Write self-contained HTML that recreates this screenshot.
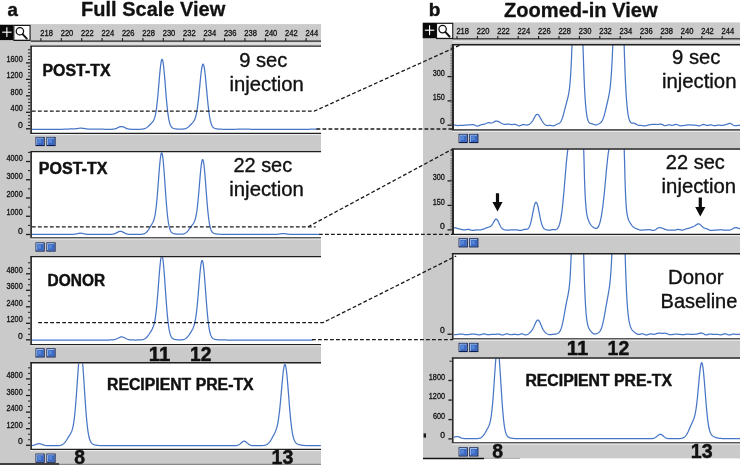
<!DOCTYPE html>
<html lang="en"><head><meta charset="utf-8"><title>Full Scale View / Zoomed-in View electropherograms</title>
<style>html,body{margin:0;padding:0;background:#fff;overflow:hidden}svg{display:block;font-family:"Liberation Sans", Arial, Helvetica, sans-serif}text{white-space:pre}</style>
</head><body>
<svg width="740" height="465" viewBox="0 0 740 465">
<rect x="0" y="0" width="740" height="465" fill="#ffffff"/>
<text x="7.5" y="15.6" font-size="18.6" font-weight="bold" text-anchor="start" fill="#111" stroke="#111" stroke-width="0.45" stroke-linejoin="round">a</text>
<text x="81.1" y="16.1" font-size="19.5" font-weight="bold" text-anchor="start" fill="#111" textLength="144.2" lengthAdjust="spacingAndGlyphs" stroke="#111" stroke-width="0.3" stroke-linejoin="round">Full Scale View</text>
<text x="428.7" y="15.9" font-size="19" font-weight="bold" text-anchor="start" fill="#111" stroke="#111" stroke-width="0.45" stroke-linejoin="round">b</text>
<text x="504" y="16.5" font-size="19.7" font-weight="bold" text-anchor="start" fill="#111" textLength="153.6" lengthAdjust="spacingAndGlyphs" stroke="#111" stroke-width="0.3" stroke-linejoin="round">Zoomed-in View</text>
<rect x="0" y="24.1" width="321" height="440.9" fill="#cacaca"/>
<rect x="0" y="24.9" width="13.3" height="15.2" fill="#0a0a0a"/>
<line x1="2.15" y1="32.2" x2="11.55" y2="32.2" stroke="#fff" stroke-width="1.15"/>
<line x1="6.85" y1="27.3" x2="6.85" y2="37.1" stroke="#fff" stroke-width="1.15"/>
<rect x="13.3" y="24.9" width="17.3" height="16.1" fill="#151515"/>
<rect x="14.4" y="26" width="15.1" height="13.7" fill="#fff"/>
<circle cx="19.9" cy="31.2" r="3.7" fill="#fff" stroke="#111" stroke-width="1.25"/>
<line x1="22.8" y1="34.3" x2="26.8" y2="38.6" stroke="#111" stroke-width="1.9" stroke-linecap="round"/>
<line x1="30.8" y1="41" x2="321" y2="41" stroke="#1c1c1c" stroke-width="1.25"/>
<rect x="30.8" y="41.9" width="290.2" height="3.5" fill="#d2d2d2"/>
<line x1="30.8" y1="43.6" x2="321" y2="43.6" stroke="#e6e6e6" stroke-width="0.9"/>
<line x1="40.9" y1="38.1" x2="40.9" y2="41" stroke="#1c1c1c" stroke-width="1.1"/>
<text x="40.3" y="36.3" font-size="8.6" font-weight="normal" text-anchor="start" fill="#111" textLength="12.6" lengthAdjust="spacingAndGlyphs" stroke="#111" stroke-width="0.3">218</text>
<line x1="61.3" y1="38.1" x2="61.3" y2="41" stroke="#1c1c1c" stroke-width="1.1"/>
<text x="60.7" y="36.3" font-size="8.6" font-weight="normal" text-anchor="start" fill="#111" textLength="12.6" lengthAdjust="spacingAndGlyphs" stroke="#111" stroke-width="0.3">220</text>
<line x1="81.7" y1="38.1" x2="81.7" y2="41" stroke="#1c1c1c" stroke-width="1.1"/>
<text x="81.1" y="36.3" font-size="8.6" font-weight="normal" text-anchor="start" fill="#111" textLength="12.6" lengthAdjust="spacingAndGlyphs" stroke="#111" stroke-width="0.3">222</text>
<line x1="102.1" y1="38.1" x2="102.1" y2="41" stroke="#1c1c1c" stroke-width="1.1"/>
<text x="101.5" y="36.3" font-size="8.6" font-weight="normal" text-anchor="start" fill="#111" textLength="12.6" lengthAdjust="spacingAndGlyphs" stroke="#111" stroke-width="0.3">224</text>
<line x1="122.5" y1="38.1" x2="122.5" y2="41" stroke="#1c1c1c" stroke-width="1.1"/>
<text x="121.9" y="36.3" font-size="8.6" font-weight="normal" text-anchor="start" fill="#111" textLength="12.6" lengthAdjust="spacingAndGlyphs" stroke="#111" stroke-width="0.3">226</text>
<line x1="142.9" y1="38.1" x2="142.9" y2="41" stroke="#1c1c1c" stroke-width="1.1"/>
<text x="142.3" y="36.3" font-size="8.6" font-weight="normal" text-anchor="start" fill="#111" textLength="12.6" lengthAdjust="spacingAndGlyphs" stroke="#111" stroke-width="0.3">228</text>
<line x1="163.3" y1="38.1" x2="163.3" y2="41" stroke="#1c1c1c" stroke-width="1.1"/>
<text x="162.7" y="36.3" font-size="8.6" font-weight="normal" text-anchor="start" fill="#111" textLength="12.6" lengthAdjust="spacingAndGlyphs" stroke="#111" stroke-width="0.3">230</text>
<line x1="183.7" y1="38.1" x2="183.7" y2="41" stroke="#1c1c1c" stroke-width="1.1"/>
<text x="183.1" y="36.3" font-size="8.6" font-weight="normal" text-anchor="start" fill="#111" textLength="12.6" lengthAdjust="spacingAndGlyphs" stroke="#111" stroke-width="0.3">232</text>
<line x1="204.1" y1="38.1" x2="204.1" y2="41" stroke="#1c1c1c" stroke-width="1.1"/>
<text x="203.5" y="36.3" font-size="8.6" font-weight="normal" text-anchor="start" fill="#111" textLength="12.6" lengthAdjust="spacingAndGlyphs" stroke="#111" stroke-width="0.3">234</text>
<line x1="224.5" y1="38.1" x2="224.5" y2="41" stroke="#1c1c1c" stroke-width="1.1"/>
<text x="223.9" y="36.3" font-size="8.6" font-weight="normal" text-anchor="start" fill="#111" textLength="12.6" lengthAdjust="spacingAndGlyphs" stroke="#111" stroke-width="0.3">236</text>
<line x1="244.9" y1="38.1" x2="244.9" y2="41" stroke="#1c1c1c" stroke-width="1.1"/>
<text x="244.3" y="36.3" font-size="8.6" font-weight="normal" text-anchor="start" fill="#111" textLength="12.6" lengthAdjust="spacingAndGlyphs" stroke="#111" stroke-width="0.3">238</text>
<line x1="265.3" y1="38.1" x2="265.3" y2="41" stroke="#1c1c1c" stroke-width="1.1"/>
<text x="264.7" y="36.3" font-size="8.6" font-weight="normal" text-anchor="start" fill="#111" textLength="12.6" lengthAdjust="spacingAndGlyphs" stroke="#111" stroke-width="0.3">240</text>
<line x1="285.7" y1="38.1" x2="285.7" y2="41" stroke="#1c1c1c" stroke-width="1.1"/>
<text x="285.1" y="36.3" font-size="8.6" font-weight="normal" text-anchor="start" fill="#111" textLength="12.6" lengthAdjust="spacingAndGlyphs" stroke="#111" stroke-width="0.3">242</text>
<line x1="306.1" y1="38.1" x2="306.1" y2="41" stroke="#1c1c1c" stroke-width="1.1"/>
<text x="305.5" y="36.3" font-size="8.6" font-weight="normal" text-anchor="start" fill="#111" textLength="12.6" lengthAdjust="spacingAndGlyphs" stroke="#111" stroke-width="0.3">244</text>
<rect x="30.3" y="45.5" width="290.7" height="88.2" fill="#ffffff"/>
<rect x="30.3" y="151" width="290.7" height="87.1" fill="#ffffff"/>
<rect x="30.3" y="256" width="290.7" height="88.9" fill="#ffffff"/>
<rect x="30.3" y="362.1" width="290.7" height="87.6" fill="#ffffff"/>
<clipPath id="c1"><rect x="30.9" y="46.6" width="288.1" height="86.7"/></clipPath>
<path d="M31.9 129.3 L32.4 129.3 L32.9 129.3 L33.4 129.3 L33.9 129.3 L34.4 129.3 L34.9 129.3 L35.4 129.3 L35.9 129.3 L36.4 129.3 L36.9 129.3 L37.4 129.3 L37.9 129.3 L38.4 129.3 L38.9 129.3 L39.4 129.3 L39.9 129.3 L40.4 129.3 L40.9 129.3 L41.4 129.3 L41.9 129.3 L42.4 129.3 L42.9 129.3 L43.4 129.3 L43.9 129.3 L44.4 129.3 L44.9 129.3 L45.4 129.3 L45.9 129.3 L46.4 129.3 L46.9 129.3 L47.4 129.3 L47.9 129.3 L48.4 129.3 L48.9 129.3 L49.4 129.3 L49.9 129.3 L50.4 129.3 L50.9 129.3 L51.4 129.3 L51.9 129.3 L52.4 129.3 L52.9 129.3 L53.4 129.3 L53.9 129.3 L54.4 129.3 L54.9 129.3 L55.4 129.3 L55.9 129.3 L56.4 129.3 L56.9 129.3 L57.4 129.3 L57.9 129.3 L58.4 129.3 L58.9 129.3 L59.4 129.29 L59.9 129.29 L60.4 129.29 L60.9 129.28 L61.4 129.28 L61.9 129.27 L62.4 129.26 L62.9 129.25 L63.4 129.23 L63.9 129.22 L64.4 129.2 L64.9 129.18 L65.4 129.16 L65.9 129.14 L66.4 129.12 L66.9 129.09 L67.4 129.07 L67.9 129.05 L68.4 129.03 L68.9 129.01 L69.4 128.99 L69.9 128.98 L70.4 128.97 L70.9 128.96 L71.4 128.96 L71.9 128.95 L72.4 128.94 L72.9 128.93 L73.4 128.91 L73.9 128.89 L74.4 128.86 L74.9 128.82 L75.4 128.77 L75.9 128.71 L76.4 128.65 L76.9 128.58 L77.4 128.51 L77.9 128.43 L78.4 128.36 L78.9 128.3 L79.4 128.25 L79.9 128.21 L80.4 128.18 L80.9 128.18 L81.4 128.19 L81.9 128.22 L82.4 128.26 L82.9 128.32 L83.4 128.39 L83.9 128.47 L84.4 128.55 L84.9 128.64 L85.4 128.72 L85.9 128.8 L86.4 128.87 L86.9 128.93 L87.4 128.99 L87.9 129.03 L88.4 129.07 L88.9 129.09 L89.4 129.11 L89.9 129.12 L90.4 129.13 L90.9 129.13 L91.4 129.13 L91.9 129.13 L92.4 129.12 L92.9 129.11 L93.4 129.11 L93.9 129.1 L94.4 129.1 L94.9 129.1 L95.4 129.1 L95.9 129.1 L96.4 129.1 L96.9 129.11 L97.4 129.11 L97.9 129.12 L98.4 129.13 L98.9 129.14 L99.4 129.15 L99.9 129.17 L100.4 129.18 L100.9 129.19 L101.4 129.2 L101.9 129.21 L102.4 129.22 L102.9 129.23 L103.4 129.24 L103.9 129.25 L104.4 129.26 L104.9 129.27 L105.4 129.27 L105.9 129.28 L106.4 129.28 L106.9 129.29 L107.4 129.29 L107.9 129.29 L108.4 129.29 L108.9 129.29 L109.4 129.29 L109.9 129.29 L110.4 129.28 L110.9 129.27 L111.4 129.26 L111.9 129.24 L112.4 129.22 L112.9 129.18 L113.4 129.13 L113.9 129.06 L114.4 128.97 L114.9 128.85 L115.4 128.71 L115.9 128.55 L116.4 128.36 L116.9 128.14 L117.4 127.91 L117.9 127.66 L118.4 127.42 L118.9 127.18 L119.4 126.96 L119.9 126.78 L120.4 126.64 L120.9 126.55 L121.4 126.52 L121.9 126.55 L122.4 126.64 L122.9 126.78 L123.4 126.96 L123.9 127.18 L124.4 127.42 L124.9 127.66 L125.4 127.91 L125.9 128.14 L126.4 128.36 L126.9 128.55 L127.4 128.71 L127.9 128.85 L128.4 128.97 L128.9 129.06 L129.4 129.13 L129.9 129.18 L130.4 129.22 L130.9 129.24 L131.4 129.26 L131.9 129.28 L132.4 129.29 L132.9 129.29 L133.4 129.29 L133.9 129.3 L134.4 129.3 L134.9 129.3 L135.4 129.3 L135.9 129.3 L136.4 129.3 L136.9 129.3 L137.4 129.29 L137.9 129.29 L138.4 129.29 L138.9 129.28 L139.4 129.28 L139.9 129.26 L140.4 129.25 L140.9 129.23 L141.4 129.2 L141.9 129.16 L142.4 129.11 L142.9 129.04 L143.4 128.95 L143.9 128.83 L144.4 128.69 L144.9 128.51 L145.4 128.3 L145.9 128.04 L146.4 127.75 L146.9 127.41 L147.4 127.03 L147.9 126.62 L148.4 126.17 L148.9 125.7 L149.4 125.21 L149.9 124.71 L150.4 124.21 L150.9 123.7 L151.4 123.2 L151.9 122.68 L152.4 122.13 L152.9 121.5 L153.4 120.74 L153.9 119.79 L154.4 118.56 L154.9 116.96 L155.4 114.89 L155.9 112.26 L156.4 108.99 L156.9 105.04 L157.4 100.43 L157.9 95.22 L158.4 89.55 L158.9 83.63 L159.4 77.73 L159.9 72.15 L160.4 67.22 L160.9 63.27 L161.4 60.56 L161.9 59.28 L162.4 59.55 L162.9 61.36 L163.4 64.58 L163.9 69.01 L164.4 74.38 L164.9 80.37 L165.4 86.64 L165.9 92.89 L166.4 98.87 L166.9 104.37 L167.4 109.25 L167.9 113.46 L168.4 116.98 L168.9 119.84 L169.4 122.11 L169.9 123.86 L170.4 125.2 L170.9 126.19 L171.4 126.93 L171.9 127.46 L172.4 127.86 L172.9 128.15 L173.4 128.36 L173.9 128.53 L174.4 128.66 L174.9 128.76 L175.4 128.85 L175.9 128.92 L176.4 128.98 L176.9 129.03 L177.4 129.07 L177.9 129.11 L178.4 129.14 L178.9 129.17 L179.4 129.18 L179.9 129.2 L180.4 129.21 L180.9 129.21 L181.4 129.2 L181.9 129.19 L182.4 129.16 L182.9 129.12 L183.4 129.07 L183.9 128.99 L184.4 128.9 L184.9 128.78 L185.4 128.62 L185.9 128.43 L186.4 128.21 L186.9 127.94 L187.4 127.63 L187.9 127.28 L188.4 126.89 L188.9 126.46 L189.4 126 L189.9 125.51 L190.4 125.01 L190.9 124.5 L191.4 123.98 L191.9 123.45 L192.4 122.9 L192.9 122.32 L193.4 121.68 L193.9 120.95 L194.4 120.06 L194.9 118.96 L195.4 117.57 L195.9 115.81 L196.4 113.62 L196.9 110.92 L197.4 107.68 L197.9 103.89 L198.4 99.58 L198.9 94.83 L199.4 89.78 L199.9 84.6 L200.4 79.52 L200.9 74.79 L201.4 70.66 L201.9 67.38 L202.4 65.15 L202.9 64.11 L203.4 64.34 L203.9 65.84 L204.4 68.52 L204.9 72.23 L205.4 76.76 L205.9 81.88 L206.4 87.32 L206.9 92.84 L207.4 98.22 L207.9 103.29 L208.4 107.9 L208.9 111.99 L209.4 115.5 L209.9 118.46 L210.4 120.88 L210.9 122.81 L211.4 124.34 L211.9 125.51 L212.4 126.41 L212.9 127.08 L213.4 127.58 L213.9 127.95 L214.4 128.23 L214.9 128.44 L215.4 128.6 L215.9 128.73 L216.4 128.83 L216.9 128.91 L217.4 128.97 L217.9 129.03 L218.4 129.08 L218.9 129.11 L219.4 129.15 L219.9 129.17 L220.4 129.2 L220.9 129.22 L221.4 129.23 L221.9 129.25 L222.4 129.26 L222.9 129.27 L223.4 129.27 L223.9 129.28 L224.4 129.28 L224.9 129.29 L225.4 129.29 L225.9 129.29 L226.4 129.29 L226.9 129.3 L227.4 129.3 L227.9 129.3 L228.4 129.3 L228.9 129.3 L229.4 129.3 L229.9 129.3 L230.4 129.3 L230.9 129.3 L231.4 129.3 L231.9 129.3 L232.4 129.29 L232.9 129.29 L233.4 129.29 L233.9 129.28 L234.4 129.28 L234.9 129.27 L235.4 129.27 L235.9 129.26 L236.4 129.25 L236.9 129.23 L237.4 129.22 L237.9 129.2 L238.4 129.18 L238.9 129.17 L239.4 129.15 L239.9 129.13 L240.4 129.11 L240.9 129.09 L241.4 129.08 L241.9 129.06 L242.4 129.06 L242.9 129.05 L243.4 129.05 L243.9 129.05 L244.4 129.06 L244.9 129.06 L245.4 129.08 L245.9 129.09 L246.4 129.11 L246.9 129.13 L247.4 129.15 L247.9 129.17 L248.4 129.18 L248.9 129.2 L249.4 129.22 L249.9 129.23 L250.4 129.25 L250.9 129.26 L251.4 129.27 L251.9 129.27 L252.4 129.28 L252.9 129.28 L253.4 129.29 L253.9 129.29 L254.4 129.29 L254.9 129.3 L255.4 129.3 L255.9 129.3 L256.4 129.3 L256.9 129.3 L257.4 129.3 L257.9 129.3 L258.4 129.3 L258.9 129.3 L259.4 129.3 L259.9 129.3 L260.4 129.3 L260.9 129.3 L261.4 129.3 L261.9 129.3 L262.4 129.3 L262.9 129.3 L263.4 129.3 L263.9 129.3 L264.4 129.3 L264.9 129.3 L265.4 129.3 L265.9 129.3 L266.4 129.3 L266.9 129.3 L267.4 129.3 L267.9 129.3 L268.4 129.3 L268.9 129.3 L269.4 129.3 L269.9 129.3 L270.4 129.3 L270.9 129.3 L271.4 129.3 L271.9 129.3 L272.4 129.3 L272.9 129.3 L273.4 129.3 L273.9 129.3 L274.4 129.3 L274.9 129.3 L275.4 129.3 L275.9 129.3 L276.4 129.3 L276.9 129.3 L277.4 129.3 L277.9 129.3 L278.4 129.3 L278.9 129.3 L279.4 129.3 L279.9 129.3 L280.4 129.3 L280.9 129.3 L281.4 129.3 L281.9 129.3 L282.4 129.3 L282.9 129.3 L283.4 129.3 L283.9 129.3 L284.4 129.3 L284.9 129.3 L285.4 129.3 L285.9 129.3 L286.4 129.3 L286.9 129.3 L287.4 129.3 L287.9 129.3 L288.4 129.3 L288.9 129.3 L289.4 129.3 L289.9 129.3 L290.4 129.3 L290.9 129.3 L291.4 129.3 L291.9 129.3 L292.4 129.3 L292.9 129.3 L293.4 129.3 L293.9 129.3 L294.4 129.3 L294.9 129.3 L295.4 129.3 L295.9 129.3 L296.4 129.3 L296.9 129.3 L297.4 129.3 L297.9 129.3 L298.4 129.3 L298.9 129.3 L299.4 129.3 L299.9 129.3 L300.4 129.3 L300.9 129.3 L301.4 129.3 L301.9 129.3 L302.4 129.3 L302.9 129.3 L303.4 129.3 L303.9 129.3 L304.4 129.3 L304.9 129.3 L305.4 129.3 L305.9 129.3 L306.4 129.3 L306.9 129.3 L307.4 129.29 L307.9 129.29 L308.4 129.28 L308.9 129.27 L309.4 129.26 L309.9 129.24 L310.4 129.22 L310.9 129.19 L311.4 129.15 L311.9 129.12 L312.4 129.08 L312.9 129.05 L313.4 129.02 L313.9 129 L314.4 129 L314.9 129 L315.4 129.02 L315.9 129.05 L316.4 129.08 L316.9 129.12 L317.4 129.15 L317.9 129.19" fill="none" stroke="#4876c6" stroke-width="1.25" stroke-linejoin="round" clip-path="url(#c1)"/>
<clipPath id="c2"><rect x="30.9" y="152.1" width="289.1" height="86.3"/></clipPath>
<path d="M31.9 234.4 L32.4 234.4 L32.9 234.4 L33.4 234.4 L33.9 234.4 L34.4 234.4 L34.9 234.4 L35.4 234.4 L35.9 234.4 L36.4 234.4 L36.9 234.4 L37.4 234.4 L37.9 234.4 L38.4 234.4 L38.9 234.4 L39.4 234.4 L39.9 234.4 L40.4 234.4 L40.9 234.4 L41.4 234.4 L41.9 234.4 L42.4 234.4 L42.9 234.4 L43.4 234.4 L43.9 234.4 L44.4 234.4 L44.9 234.4 L45.4 234.4 L45.9 234.4 L46.4 234.4 L46.9 234.4 L47.4 234.4 L47.9 234.4 L48.4 234.4 L48.9 234.4 L49.4 234.4 L49.9 234.4 L50.4 234.4 L50.9 234.4 L51.4 234.4 L51.9 234.4 L52.4 234.4 L52.9 234.4 L53.4 234.4 L53.9 234.4 L54.4 234.4 L54.9 234.4 L55.4 234.4 L55.9 234.4 L56.4 234.4 L56.9 234.4 L57.4 234.4 L57.9 234.4 L58.4 234.4 L58.9 234.4 L59.4 234.4 L59.9 234.4 L60.4 234.4 L60.9 234.4 L61.4 234.4 L61.9 234.4 L62.4 234.4 L62.9 234.4 L63.4 234.4 L63.9 234.4 L64.4 234.4 L64.9 234.4 L65.4 234.4 L65.9 234.4 L66.4 234.4 L66.9 234.4 L67.4 234.4 L67.9 234.4 L68.4 234.4 L68.9 234.4 L69.4 234.4 L69.9 234.39 L70.4 234.39 L70.9 234.39 L71.4 234.38 L71.9 234.36 L72.4 234.35 L72.9 234.32 L73.4 234.29 L73.9 234.25 L74.4 234.19 L74.9 234.13 L75.4 234.05 L75.9 233.95 L76.4 233.85 L76.9 233.74 L77.4 233.63 L77.9 233.52 L78.4 233.41 L78.9 233.32 L79.4 233.26 L79.9 233.21 L80.4 233.2 L80.9 233.21 L81.4 233.26 L81.9 233.32 L82.4 233.41 L82.9 233.52 L83.4 233.63 L83.9 233.74 L84.4 233.85 L84.9 233.95 L85.4 234.05 L85.9 234.13 L86.4 234.19 L86.9 234.25 L87.4 234.29 L87.9 234.32 L88.4 234.35 L88.9 234.36 L89.4 234.38 L89.9 234.39 L90.4 234.39 L90.9 234.39 L91.4 234.4 L91.9 234.4 L92.4 234.4 L92.9 234.4 L93.4 234.4 L93.9 234.4 L94.4 234.4 L94.9 234.4 L95.4 234.4 L95.9 234.4 L96.4 234.4 L96.9 234.4 L97.4 234.4 L97.9 234.4 L98.4 234.4 L98.9 234.4 L99.4 234.4 L99.9 234.4 L100.4 234.4 L100.9 234.4 L101.4 234.4 L101.9 234.4 L102.4 234.4 L102.9 234.4 L103.4 234.4 L103.9 234.4 L104.4 234.4 L104.9 234.4 L105.4 234.4 L105.9 234.4 L106.4 234.4 L106.9 234.4 L107.4 234.4 L107.9 234.4 L108.4 234.4 L108.9 234.39 L109.4 234.39 L109.9 234.38 L110.4 234.37 L110.9 234.35 L111.4 234.32 L111.9 234.29 L112.4 234.24 L112.9 234.17 L113.4 234.07 L113.9 233.95 L114.4 233.81 L114.9 233.63 L115.4 233.42 L115.9 233.18 L116.4 232.91 L116.9 232.63 L117.4 232.35 L117.9 232.07 L118.4 231.82 L118.9 231.6 L119.4 231.44 L119.9 231.34 L120.4 231.3 L120.9 231.34 L121.4 231.44 L121.9 231.6 L122.4 231.82 L122.9 232.07 L123.4 232.35 L123.9 232.63 L124.4 232.91 L124.9 233.18 L125.4 233.42 L125.9 233.63 L126.4 233.81 L126.9 233.95 L127.4 234.07 L127.9 234.17 L128.4 234.24 L128.9 234.29 L129.4 234.32 L129.9 234.35 L130.4 234.37 L130.9 234.38 L131.4 234.39 L131.9 234.39 L132.4 234.4 L132.9 234.4 L133.4 234.4 L133.9 234.4 L134.4 234.4 L134.9 234.4 L135.4 234.4 L135.9 234.4 L136.4 234.39 L136.9 234.39 L137.4 234.39 L137.9 234.39 L138.4 234.38 L138.9 234.38 L139.4 234.37 L139.9 234.35 L140.4 234.34 L140.9 234.31 L141.4 234.27 L141.9 234.23 L142.4 234.16 L142.9 234.07 L143.4 233.95 L143.9 233.8 L144.4 233.6 L144.9 233.35 L145.4 233.05 L145.9 232.68 L146.4 232.24 L146.9 231.73 L147.4 231.15 L147.9 230.5 L148.4 229.8 L148.9 229.04 L149.4 228.26 L149.9 227.45 L150.4 226.64 L150.9 225.82 L151.4 225.01 L151.9 224.17 L152.4 223.29 L152.9 222.31 L153.4 221.16 L153.9 219.75 L154.4 217.96 L154.9 215.69 L155.4 212.83 L155.9 209.27 L156.4 204.97 L156.9 199.93 L157.4 194.19 L157.9 187.92 L158.4 181.31 L158.9 174.66 L159.4 168.32 L159.9 162.64 L160.4 158 L160.9 154.7 L161.4 152.99 L161.9 153 L162.4 154.75 L162.9 158.15 L163.4 162.98 L163.9 168.95 L164.4 175.71 L164.9 182.89 L165.4 190.15 L165.9 197.17 L166.4 203.7 L166.9 209.57 L167.4 214.69 L167.9 219.02 L168.4 222.57 L168.9 225.41 L169.4 227.63 L169.9 229.33 L170.4 230.6 L170.9 231.53 L171.4 232.21 L171.9 232.71 L172.4 233.06 L172.9 233.32 L173.4 233.51 L173.9 233.66 L174.4 233.77 L174.9 233.87 L175.4 233.94 L175.9 234.01 L176.4 234.06 L176.9 234.11 L177.4 234.15 L177.9 234.18 L178.4 234.21 L178.9 234.23 L179.4 234.24 L179.9 234.25 L180.4 234.24 L180.9 234.23 L181.4 234.2 L181.9 234.16 L182.4 234.1 L182.9 234.02 L183.4 233.91 L183.9 233.77 L184.4 233.59 L184.9 233.37 L185.4 233.1 L185.9 232.77 L186.4 232.39 L186.9 231.96 L187.4 231.46 L187.9 230.9 L188.4 230.3 L188.9 229.65 L189.4 228.97 L189.9 228.27 L190.4 227.57 L190.9 226.86 L191.4 226.16 L191.9 225.48 L192.4 224.8 L192.9 224.1 L193.4 223.36 L193.9 222.51 L194.4 221.5 L194.9 220.23 L195.4 218.61 L195.9 216.53 L196.4 213.9 L196.9 210.65 L197.4 206.71 L197.9 202.1 L198.4 196.87 L198.9 191.16 L199.4 185.16 L199.9 179.13 L200.4 173.4 L200.9 168.28 L201.4 164.1 L201.9 161.15 L202.4 159.65 L202.9 159.72 L203.4 161.37 L203.9 164.51 L204.4 168.96 L204.9 174.43 L205.4 180.62 L205.9 187.2 L206.4 193.83 L206.9 200.24 L207.4 206.21 L207.9 211.58 L208.4 216.25 L208.9 220.2 L209.4 223.45 L209.9 226.06 L210.4 228.09 L210.9 229.65 L211.4 230.82 L211.9 231.68 L212.4 232.31 L212.9 232.76 L213.4 233.1 L213.9 233.34 L214.4 233.53 L214.9 233.67 L215.4 233.78 L215.9 233.87 L216.4 233.95 L216.9 234.01 L217.4 234.07 L217.9 234.11 L218.4 234.16 L218.9 234.19 L219.4 234.23 L219.9 234.25 L220.4 234.28 L220.9 234.3 L221.4 234.32 L221.9 234.33 L222.4 234.34 L222.9 234.35 L223.4 234.36 L223.9 234.37 L224.4 234.38 L224.9 234.38 L225.4 234.38 L225.9 234.39 L226.4 234.39 L226.9 234.39 L227.4 234.39 L227.9 234.4 L228.4 234.4 L228.9 234.4 L229.4 234.4 L229.9 234.4 L230.4 234.4 L230.9 234.4 L231.4 234.4 L231.9 234.4 L232.4 234.4 L232.9 234.4 L233.4 234.4 L233.9 234.4 L234.4 234.4 L234.9 234.4 L235.4 234.4 L235.9 234.4 L236.4 234.4 L236.9 234.4 L237.4 234.4 L237.9 234.4 L238.4 234.4 L238.9 234.4 L239.4 234.4 L239.9 234.4 L240.4 234.4 L240.9 234.4 L241.4 234.4 L241.9 234.4 L242.4 234.4 L242.9 234.4 L243.4 234.4 L243.9 234.4 L244.4 234.4 L244.9 234.4 L245.4 234.4 L245.9 234.4 L246.4 234.4 L246.9 234.4 L247.4 234.4 L247.9 234.4 L248.4 234.4 L248.9 234.4 L249.4 234.4 L249.9 234.4 L250.4 234.4 L250.9 234.4 L251.4 234.4 L251.9 234.4 L252.4 234.4 L252.9 234.4 L253.4 234.4 L253.9 234.4 L254.4 234.4 L254.9 234.4 L255.4 234.4 L255.9 234.4 L256.4 234.4 L256.9 234.4 L257.4 234.4 L257.9 234.4 L258.4 234.4 L258.9 234.4 L259.4 234.4 L259.9 234.4 L260.4 234.4 L260.9 234.4 L261.4 234.4 L261.9 234.4 L262.4 234.4 L262.9 234.4 L263.4 234.4 L263.9 234.4 L264.4 234.4 L264.9 234.4 L265.4 234.4 L265.9 234.4 L266.4 234.4 L266.9 234.4 L267.4 234.4 L267.9 234.4 L268.4 234.4 L268.9 234.4 L269.4 234.4 L269.9 234.4 L270.4 234.4 L270.9 234.4 L271.4 234.4 L271.9 234.4 L272.4 234.4 L272.9 234.39 L273.4 234.39 L273.9 234.39 L274.4 234.38 L274.9 234.37 L275.4 234.36 L275.9 234.34 L276.4 234.32 L276.9 234.29 L277.4 234.25 L277.9 234.2 L278.4 234.15 L278.9 234.08 L279.4 234.02 L279.9 233.94 L280.4 233.87 L280.9 233.8 L281.4 233.73 L281.9 233.68 L282.4 233.64 L282.9 233.61 L283.4 233.6 L283.9 233.61 L284.4 233.64 L284.9 233.68 L285.4 233.73 L285.9 233.8 L286.4 233.87 L286.9 233.94 L287.4 234.02 L287.9 234.08 L288.4 234.15 L288.9 234.2 L289.4 234.25 L289.9 234.29 L290.4 234.32 L290.9 234.34 L291.4 234.36 L291.9 234.37 L292.4 234.38 L292.9 234.39 L293.4 234.39 L293.9 234.39 L294.4 234.4 L294.9 234.4 L295.4 234.4 L295.9 234.4 L296.4 234.4 L296.9 234.4 L297.4 234.4 L297.9 234.4 L298.4 234.4 L298.9 234.4 L299.4 234.4 L299.9 234.4 L300.4 234.4 L300.9 234.4 L301.4 234.4 L301.9 234.4 L302.4 234.4 L302.9 234.4 L303.4 234.4 L303.9 234.4 L304.4 234.4 L304.9 234.4 L305.4 234.4 L305.9 234.4 L306.4 234.4 L306.9 234.4 L307.4 234.4 L307.9 234.4 L308.4 234.4 L308.9 234.4 L309.4 234.4 L309.9 234.4 L310.4 234.4 L310.9 234.4 L311.4 234.4 L311.9 234.4 L312.4 234.4 L312.9 234.4 L313.4 234.4 L313.9 234.4 L314.4 234.4 L314.9 234.4 L315.4 234.4 L315.9 234.4 L316.4 234.4 L316.9 234.4 L317.4 234.4 L317.9 234.4 L318.4 234.4 L318.9 234.4" fill="none" stroke="#4876c6" stroke-width="1.25" stroke-linejoin="round" clip-path="url(#c2)"/>
<clipPath id="c3"><rect x="30.9" y="257.3" width="283.1" height="86.7"/></clipPath>
<path d="M31.9 340 L32.4 340 L32.9 340 L33.4 340 L33.9 340 L34.4 340 L34.9 340 L35.4 340 L35.9 340 L36.4 340 L36.9 340 L37.4 340 L37.9 340 L38.4 340 L38.9 340 L39.4 340 L39.9 340 L40.4 340 L40.9 340 L41.4 340 L41.9 340 L42.4 340 L42.9 340 L43.4 340 L43.9 340 L44.4 340 L44.9 340 L45.4 340 L45.9 340 L46.4 340 L46.9 340 L47.4 340 L47.9 340 L48.4 340 L48.9 340 L49.4 340 L49.9 340 L50.4 340 L50.9 340 L51.4 340 L51.9 340 L52.4 340 L52.9 340 L53.4 340 L53.9 340 L54.4 340 L54.9 340 L55.4 340 L55.9 340 L56.4 340 L56.9 340 L57.4 340 L57.9 340 L58.4 340 L58.9 340 L59.4 340 L59.9 340 L60.4 340 L60.9 340 L61.4 340 L61.9 340 L62.4 340 L62.9 340 L63.4 340 L63.9 340 L64.4 340 L64.9 340 L65.4 340 L65.9 340 L66.4 340 L66.9 340 L67.4 340 L67.9 340 L68.4 340 L68.9 340 L69.4 340 L69.9 340 L70.4 340 L70.9 340 L71.4 340 L71.9 340 L72.4 340 L72.9 340 L73.4 340 L73.9 340 L74.4 340 L74.9 340 L75.4 340 L75.9 340 L76.4 340 L76.9 340 L77.4 340 L77.9 340 L78.4 340 L78.9 340 L79.4 340 L79.9 340 L80.4 340 L80.9 340 L81.4 340 L81.9 340 L82.4 340 L82.9 340 L83.4 340 L83.9 340 L84.4 340 L84.9 340 L85.4 340 L85.9 340 L86.4 340 L86.9 340 L87.4 340 L87.9 340 L88.4 340 L88.9 340 L89.4 340 L89.9 340 L90.4 340 L90.9 340 L91.4 340 L91.9 340 L92.4 340 L92.9 340 L93.4 340 L93.9 340 L94.4 340 L94.9 340 L95.4 340 L95.9 340 L96.4 340 L96.9 340 L97.4 340 L97.9 340 L98.4 340 L98.9 340 L99.4 340 L99.9 340 L100.4 340 L100.9 340 L101.4 340 L101.9 340 L102.4 340 L102.9 340 L103.4 340 L103.9 340 L104.4 340 L104.9 340 L105.4 340 L105.9 340 L106.4 340 L106.9 340 L107.4 340 L107.9 340 L108.4 340 L108.9 340 L109.4 339.99 L109.9 339.99 L110.4 339.98 L110.9 339.97 L111.4 339.96 L111.9 339.93 L112.4 339.9 L112.9 339.86 L113.4 339.8 L113.9 339.72 L114.4 339.63 L114.9 339.5 L115.4 339.35 L115.9 339.18 L116.4 338.97 L116.9 338.74 L117.4 338.49 L117.9 338.23 L118.4 337.96 L118.9 337.7 L119.4 337.46 L119.9 337.24 L120.4 337.08 L120.9 336.96 L121.4 336.91 L121.9 336.91 L122.4 336.98 L122.9 337.11 L123.4 337.28 L123.9 337.5 L124.4 337.75 L124.9 338.01 L125.4 338.28 L125.9 338.54 L126.4 338.79 L126.9 339.02 L127.4 339.21 L127.9 339.39 L128.4 339.53 L128.9 339.65 L129.4 339.74 L129.9 339.81 L130.4 339.87 L130.9 339.91 L131.4 339.94 L131.9 339.96 L132.4 339.97 L132.9 339.98 L133.4 339.99 L133.9 339.99 L134.4 340 L134.9 340 L135.4 340 L135.9 340 L136.4 340 L136.9 339.99 L137.4 339.99 L137.9 339.99 L138.4 339.98 L138.9 339.97 L139.4 339.95 L139.9 339.93 L140.4 339.91 L140.9 339.87 L141.4 339.82 L141.9 339.75 L142.4 339.66 L142.9 339.55 L143.4 339.4 L143.9 339.22 L144.4 338.99 L144.9 338.72 L145.4 338.39 L145.9 338.01 L146.4 337.56 L146.9 337.05 L147.4 336.49 L147.9 335.87 L148.4 335.2 L148.9 334.5 L149.4 333.76 L149.9 332.99 L150.4 332.21 L150.9 331.4 L151.4 330.57 L151.9 329.68 L152.4 328.71 L152.9 327.61 L153.4 326.31 L153.9 324.72 L154.4 322.75 L154.9 320.31 L155.4 317.29 L155.9 313.62 L156.4 309.25 L156.9 304.18 L157.4 298.46 L157.9 292.23 L158.4 285.67 L158.9 279.04 L159.4 272.66 L159.9 266.84 L160.4 261.94 L160.9 258.26 L161.4 256.04 L161.9 255.46 L162.4 256.55 L162.9 259.29 L163.4 263.51 L163.9 268.96 L164.4 275.36 L164.9 282.35 L165.4 289.6 L165.9 296.8 L166.4 303.67 L166.9 310.02 L167.4 315.69 L167.9 320.61 L168.4 324.77 L168.9 328.2 L169.4 330.96 L169.9 333.13 L170.4 334.8 L170.9 336.07 L171.4 337.02 L171.9 337.72 L172.4 338.24 L172.9 338.62 L173.4 338.9 L173.9 339.11 L174.4 339.28 L174.9 339.4 L175.4 339.51 L175.9 339.59 L176.4 339.66 L176.9 339.71 L177.4 339.76 L177.9 339.8 L178.4 339.82 L178.9 339.85 L179.4 339.86 L179.9 339.87 L180.4 339.86 L180.9 339.85 L181.4 339.82 L181.9 339.78 L182.4 339.72 L182.9 339.64 L183.4 339.53 L183.9 339.38 L184.4 339.2 L184.9 338.98 L185.4 338.7 L185.9 338.37 L186.4 337.99 L186.9 337.54 L187.4 337.03 L187.9 336.46 L188.4 335.84 L188.9 335.17 L189.4 334.45 L189.9 333.7 L190.4 332.92 L190.9 332.12 L191.4 331.29 L191.9 330.43 L192.4 329.51 L192.9 328.49 L193.4 327.32 L193.9 325.95 L194.4 324.28 L194.9 322.23 L195.4 319.7 L195.9 316.61 L196.4 312.91 L196.9 308.55 L197.4 303.57 L197.9 298.02 L198.4 292.07 L198.9 285.9 L199.4 279.79 L199.9 274.02 L200.4 268.92 L200.9 264.79 L201.4 261.91 L201.9 260.47 L202.4 260.59 L202.9 262.27 L203.4 265.44 L203.9 269.92 L204.4 275.44 L204.9 281.72 L205.4 288.43 L205.9 295.25 L206.4 301.92 L206.9 308.2 L207.4 313.92 L207.9 318.97 L208.4 323.31 L208.9 326.95 L209.4 329.91 L209.9 332.28 L210.4 334.13 L210.9 335.54 L211.4 336.61 L211.9 337.41 L212.4 338 L212.9 338.44 L213.4 338.77 L213.9 339.01 L214.4 339.19 L214.9 339.34 L215.4 339.45 L215.9 339.54 L216.4 339.62 L216.9 339.68 L217.4 339.74 L217.9 339.78 L218.4 339.82 L218.9 339.85 L219.4 339.88 L219.9 339.9 L220.4 339.92 L220.9 339.94 L221.4 339.95 L221.9 339.96 L222.4 339.97 L222.9 339.97 L223.4 339.98 L223.9 339.98 L224.4 339.99 L224.9 339.99 L225.4 339.99 L225.9 339.99 L226.4 340 L226.9 340 L227.4 340 L227.9 340 L228.4 340 L228.9 340 L229.4 340 L229.9 340 L230.4 340 L230.9 340 L231.4 340 L231.9 340 L232.4 340 L232.9 340 L233.4 340 L233.9 340 L234.4 340 L234.9 340 L235.4 340 L235.9 340 L236.4 340 L236.9 340 L237.4 340 L237.9 340 L238.4 340 L238.9 340 L239.4 340 L239.9 340 L240.4 340 L240.9 340 L241.4 340 L241.9 340 L242.4 340 L242.9 340 L243.4 340 L243.9 340 L244.4 340 L244.9 340 L245.4 340 L245.9 340 L246.4 340 L246.9 340 L247.4 340 L247.9 340 L248.4 340 L248.9 340 L249.4 340 L249.9 340 L250.4 340 L250.9 340 L251.4 340 L251.9 340 L252.4 340 L252.9 340 L253.4 340 L253.9 340 L254.4 340 L254.9 340 L255.4 340 L255.9 340 L256.4 340 L256.9 340 L257.4 340 L257.9 340 L258.4 340 L258.9 340 L259.4 340 L259.9 340 L260.4 340 L260.9 340 L261.4 340 L261.9 340 L262.4 340 L262.9 340 L263.4 340 L263.9 340 L264.4 340 L264.9 340 L265.4 340 L265.9 340 L266.4 340 L266.9 340 L267.4 340 L267.9 340 L268.4 340 L268.9 340 L269.4 340 L269.9 340 L270.4 340 L270.9 340 L271.4 340 L271.9 340 L272.4 340 L272.9 340 L273.4 340 L273.9 340 L274.4 340 L274.9 340 L275.4 340 L275.9 340 L276.4 340 L276.9 340 L277.4 340 L277.9 340 L278.4 340 L278.9 340 L279.4 340 L279.9 340 L280.4 340 L280.9 340 L281.4 340 L281.9 340 L282.4 340 L282.9 340 L283.4 340 L283.9 340 L284.4 340 L284.9 340 L285.4 340 L285.9 340 L286.4 340 L286.9 340 L287.4 340 L287.9 340 L288.4 340 L288.9 340 L289.4 340 L289.9 340 L290.4 340 L290.9 340 L291.4 340 L291.9 340 L292.4 340 L292.9 340 L293.4 340 L293.9 340 L294.4 340 L294.9 340 L295.4 340 L295.9 340 L296.4 340 L296.9 340 L297.4 340 L297.9 340 L298.4 340 L298.9 340 L299.4 340 L299.9 340 L300.4 340 L300.9 340 L301.4 340 L301.9 340 L302.4 340 L302.9 340 L303.4 340 L303.9 340 L304.4 340 L304.9 340 L305.4 340 L305.9 340 L306.4 340 L306.9 340 L307.4 340 L307.9 340 L308.4 340 L308.9 340 L309.4 340 L309.9 340 L310.4 340 L310.9 340 L311.4 340 L311.9 340 L312.4 340 L312.9 340" fill="none" stroke="#4876c6" stroke-width="1.25" stroke-linejoin="round" clip-path="url(#c3)"/>
<clipPath id="c4"><rect x="30.9" y="363.4" width="291.1" height="86.3"/></clipPath>
<path d="M31.9 445.53 L32.4 445.46 L32.9 445.37 L33.4 445.27 L33.9 445.14 L34.4 444.99 L34.9 444.82 L35.4 444.64 L35.9 444.45 L36.4 444.26 L36.9 444.09 L37.4 443.94 L37.9 443.81 L38.4 443.73 L38.9 443.7 L39.4 443.72 L39.9 443.78 L40.4 443.88 L40.9 444.02 L41.4 444.19 L41.9 444.37 L42.4 444.56 L42.9 444.75 L43.4 444.92 L43.9 445.08 L44.4 445.22 L44.9 445.33 L45.4 445.43 L45.9 445.5 L46.4 445.56 L46.9 445.6 L47.4 445.64 L47.9 445.66 L48.4 445.67 L48.9 445.68 L49.4 445.69 L49.9 445.69 L50.4 445.7 L50.9 445.7 L51.4 445.7 L51.9 445.7 L52.4 445.7 L52.9 445.7 L53.4 445.7 L53.9 445.69 L54.4 445.69 L54.9 445.69 L55.4 445.69 L55.9 445.68 L56.4 445.67 L56.9 445.66 L57.4 445.65 L57.9 445.62 L58.4 445.59 L58.9 445.55 L59.4 445.5 L59.9 445.42 L60.4 445.32 L60.9 445.19 L61.4 445.03 L61.9 444.82 L62.4 444.57 L62.9 444.25 L63.4 443.88 L63.9 443.44 L64.4 442.94 L64.9 442.36 L65.4 441.72 L65.9 441.03 L66.4 440.29 L66.9 439.51 L67.4 438.71 L67.9 437.9 L68.4 437.1 L68.9 436.3 L69.4 435.51 L69.9 434.72 L70.4 433.89 L70.9 432.98 L71.4 431.93 L71.9 430.67 L72.4 429.1 L72.9 427.11 L73.4 424.59 L73.9 421.45 L74.4 417.6 L74.9 412.99 L75.4 407.61 L75.9 401.51 L76.4 394.81 L76.9 387.68 L77.4 380.38 L77.9 373.19 L78.4 366.47 L78.9 360.54 L79.4 357.4 L79.9 357.4 L80.4 357.4 L80.9 357.4 L81.4 357.4 L81.9 357.4 L82.4 360.39 L82.9 366.45 L83.4 373.42 L83.9 380.97 L84.4 388.75 L84.9 396.47 L85.4 403.85 L85.9 410.7 L86.4 416.87 L86.9 422.28 L87.4 426.91 L87.9 430.78 L88.4 433.95 L88.9 436.5 L89.4 438.51 L89.9 440.07 L90.4 441.27 L90.9 442.19 L91.4 442.89 L91.9 443.42 L92.4 443.83 L92.9 444.14 L93.4 444.39 L93.9 444.6 L94.4 444.76 L94.9 444.9 L95.4 445.02 L95.9 445.12 L96.4 445.21 L96.9 445.29 L97.4 445.35 L97.9 445.41 L98.4 445.45 L98.9 445.5 L99.4 445.53 L99.9 445.56 L100.4 445.59 L100.9 445.61 L101.4 445.62 L101.9 445.64 L102.4 445.65 L102.9 445.66 L103.4 445.67 L103.9 445.68 L104.4 445.68 L104.9 445.68 L105.4 445.69 L105.9 445.69 L106.4 445.69 L106.9 445.69 L107.4 445.7 L107.9 445.7 L108.4 445.7 L108.9 445.7 L109.4 445.7 L109.9 445.7 L110.4 445.7 L110.9 445.7 L111.4 445.7 L111.9 445.7 L112.4 445.7 L112.9 445.7 L113.4 445.7 L113.9 445.7 L114.4 445.7 L114.9 445.7 L115.4 445.7 L115.9 445.7 L116.4 445.7 L116.9 445.7 L117.4 445.7 L117.9 445.7 L118.4 445.7 L118.9 445.7 L119.4 445.7 L119.9 445.7 L120.4 445.7 L120.9 445.7 L121.4 445.7 L121.9 445.7 L122.4 445.7 L122.9 445.7 L123.4 445.7 L123.9 445.7 L124.4 445.7 L124.9 445.7 L125.4 445.7 L125.9 445.7 L126.4 445.7 L126.9 445.7 L127.4 445.7 L127.9 445.7 L128.4 445.7 L128.9 445.7 L129.4 445.7 L129.9 445.7 L130.4 445.7 L130.9 445.7 L131.4 445.7 L131.9 445.7 L132.4 445.7 L132.9 445.7 L133.4 445.7 L133.9 445.7 L134.4 445.7 L134.9 445.7 L135.4 445.7 L135.9 445.7 L136.4 445.7 L136.9 445.7 L137.4 445.7 L137.9 445.7 L138.4 445.7 L138.9 445.7 L139.4 445.7 L139.9 445.7 L140.4 445.7 L140.9 445.7 L141.4 445.7 L141.9 445.7 L142.4 445.7 L142.9 445.7 L143.4 445.7 L143.9 445.7 L144.4 445.7 L144.9 445.7 L145.4 445.7 L145.9 445.7 L146.4 445.7 L146.9 445.7 L147.4 445.7 L147.9 445.7 L148.4 445.7 L148.9 445.7 L149.4 445.7 L149.9 445.7 L150.4 445.7 L150.9 445.7 L151.4 445.7 L151.9 445.7 L152.4 445.7 L152.9 445.7 L153.4 445.7 L153.9 445.7 L154.4 445.7 L154.9 445.7 L155.4 445.7 L155.9 445.7 L156.4 445.7 L156.9 445.7 L157.4 445.7 L157.9 445.7 L158.4 445.7 L158.9 445.7 L159.4 445.7 L159.9 445.7 L160.4 445.7 L160.9 445.7 L161.4 445.7 L161.9 445.7 L162.4 445.7 L162.9 445.7 L163.4 445.7 L163.9 445.7 L164.4 445.7 L164.9 445.7 L165.4 445.7 L165.9 445.7 L166.4 445.7 L166.9 445.7 L167.4 445.7 L167.9 445.7 L168.4 445.7 L168.9 445.7 L169.4 445.7 L169.9 445.7 L170.4 445.7 L170.9 445.7 L171.4 445.7 L171.9 445.7 L172.4 445.7 L172.9 445.7 L173.4 445.7 L173.9 445.7 L174.4 445.7 L174.9 445.7 L175.4 445.7 L175.9 445.7 L176.4 445.7 L176.9 445.7 L177.4 445.7 L177.9 445.7 L178.4 445.7 L178.9 445.7 L179.4 445.7 L179.9 445.7 L180.4 445.7 L180.9 445.7 L181.4 445.7 L181.9 445.7 L182.4 445.7 L182.9 445.7 L183.4 445.7 L183.9 445.7 L184.4 445.7 L184.9 445.7 L185.4 445.7 L185.9 445.7 L186.4 445.7 L186.9 445.7 L187.4 445.7 L187.9 445.7 L188.4 445.7 L188.9 445.7 L189.4 445.7 L189.9 445.7 L190.4 445.7 L190.9 445.7 L191.4 445.7 L191.9 445.7 L192.4 445.7 L192.9 445.7 L193.4 445.7 L193.9 445.7 L194.4 445.7 L194.9 445.7 L195.4 445.7 L195.9 445.7 L196.4 445.7 L196.9 445.7 L197.4 445.7 L197.9 445.7 L198.4 445.7 L198.9 445.7 L199.4 445.7 L199.9 445.7 L200.4 445.7 L200.9 445.7 L201.4 445.7 L201.9 445.7 L202.4 445.7 L202.9 445.7 L203.4 445.7 L203.9 445.7 L204.4 445.7 L204.9 445.7 L205.4 445.7 L205.9 445.7 L206.4 445.7 L206.9 445.7 L207.4 445.7 L207.9 445.7 L208.4 445.7 L208.9 445.7 L209.4 445.7 L209.9 445.7 L210.4 445.7 L210.9 445.7 L211.4 445.7 L211.9 445.7 L212.4 445.7 L212.9 445.7 L213.4 445.7 L213.9 445.7 L214.4 445.7 L214.9 445.7 L215.4 445.7 L215.9 445.7 L216.4 445.7 L216.9 445.7 L217.4 445.7 L217.9 445.7 L218.4 445.7 L218.9 445.7 L219.4 445.7 L219.9 445.7 L220.4 445.7 L220.9 445.7 L221.4 445.7 L221.9 445.7 L222.4 445.7 L222.9 445.7 L223.4 445.7 L223.9 445.7 L224.4 445.7 L224.9 445.7 L225.4 445.7 L225.9 445.7 L226.4 445.7 L226.9 445.7 L227.4 445.7 L227.9 445.7 L228.4 445.7 L228.9 445.7 L229.4 445.7 L229.9 445.7 L230.4 445.7 L230.9 445.7 L231.4 445.7 L231.9 445.7 L232.4 445.7 L232.9 445.7 L233.4 445.69 L233.9 445.69 L234.4 445.68 L234.9 445.66 L235.4 445.64 L235.9 445.6 L236.4 445.55 L236.9 445.47 L237.4 445.36 L237.9 445.2 L238.4 445.01 L238.9 444.75 L239.4 444.45 L239.9 444.09 L240.4 443.68 L240.9 443.24 L241.4 442.79 L241.9 442.35 L242.4 441.94 L242.9 441.6 L243.4 441.36 L243.9 441.22 L244.4 441.21 L244.9 441.32 L245.4 441.55 L245.9 441.87 L246.4 442.26 L246.9 442.7 L247.4 443.15 L247.9 443.6 L248.4 444.01 L248.9 444.38 L249.4 444.7 L249.9 444.96 L250.4 445.17 L250.9 445.33 L251.4 445.45 L251.9 445.53 L252.4 445.59 L252.9 445.63 L253.4 445.66 L253.9 445.67 L254.4 445.68 L254.9 445.69 L255.4 445.69 L255.9 445.69 L256.4 445.69 L256.9 445.69 L257.4 445.69 L257.9 445.69 L258.4 445.69 L258.9 445.68 L259.4 445.68 L259.9 445.67 L260.4 445.66 L260.9 445.65 L261.4 445.63 L261.9 445.61 L262.4 445.59 L262.9 445.55 L263.4 445.5 L263.9 445.44 L264.4 445.35 L264.9 445.25 L265.4 445.11 L265.9 444.94 L266.4 444.73 L266.9 444.47 L267.4 444.15 L267.9 443.77 L268.4 443.33 L268.9 442.82 L269.4 442.24 L269.9 441.59 L270.4 440.87 L270.9 440.1 L271.4 439.27 L271.9 438.4 L272.4 437.49 L272.9 436.57 L273.4 435.63 L273.9 434.67 L274.4 433.68 L274.9 432.65 L275.4 431.53 L275.9 430.28 L276.4 428.85 L276.9 427.16 L277.4 425.12 L277.9 422.67 L278.4 419.72 L278.9 416.22 L279.4 412.16 L279.9 407.53 L280.4 402.4 L280.9 396.88 L281.4 391.13 L281.9 385.37 L282.4 379.83 L282.9 374.79 L283.4 370.51 L283.9 367.23 L284.4 365.16 L284.9 364.42 L285.4 365.09 L285.9 367.14 L286.4 370.47 L286.9 374.92 L287.4 380.27 L287.9 386.25 L288.4 392.6 L288.9 399.06 L289.4 405.38 L289.9 411.39 L290.4 416.92 L290.9 421.88 L291.4 426.22 L291.9 429.93 L292.4 433.02 L292.9 435.56 L293.4 437.61 L293.9 439.23 L294.4 440.51 L294.9 441.5 L295.4 442.26 L295.9 442.85 L296.4 443.32 L296.9 443.68 L297.4 443.97 L297.9 444.21 L298.4 444.41 L298.9 444.58 L299.4 444.73 L299.9 444.85 L300.4 444.96 L300.9 445.06 L301.4 445.15 L301.9 445.22 L302.4 445.29 L302.9 445.35 L303.4 445.4 L303.9 445.45 L304.4 445.49 L304.9 445.52 L305.4 445.55 L305.9 445.58 L306.4 445.6 L306.9 445.62 L307.4 445.63 L307.9 445.64 L308.4 445.65 L308.9 445.66 L309.4 445.67 L309.9 445.68 L310.4 445.68 L310.9 445.68 L311.4 445.69 L311.9 445.69 L312.4 445.69 L312.9 445.69 L313.4 445.7 L313.9 445.7 L314.4 445.7 L314.9 445.7 L315.4 445.7 L315.9 445.7 L316.4 445.7 L316.9 445.7 L317.4 445.7 L317.9 445.7 L318.4 445.7 L318.9 445.7 L319.4 445.7 L319.9 445.7 L320.4 445.7 L320.9 445.7" fill="none" stroke="#4876c6" stroke-width="1.25" stroke-linejoin="round" clip-path="url(#c4)"/>
<line x1="30.3" y1="46.15" x2="321" y2="46.15" stroke="#1e1e1e" stroke-width="1.4"/>
<line x1="31.1" y1="46" x2="31.1" y2="133.2" stroke="#1e1e1e" stroke-width="1.6"/>
<line x1="30.3" y1="133.4" x2="321" y2="133.4" stroke="#222" stroke-width="1.3"/>
<line x1="30.3" y1="134.65" x2="321" y2="134.65" stroke="#f2f2f2" stroke-width="1"/>
<line x1="30.3" y1="151.65" x2="321" y2="151.65" stroke="#1e1e1e" stroke-width="1.4"/>
<line x1="31.1" y1="151.5" x2="31.1" y2="237.6" stroke="#1e1e1e" stroke-width="1.6"/>
<line x1="30.3" y1="237.8" x2="321" y2="237.8" stroke="#222" stroke-width="1.3"/>
<line x1="30.3" y1="239.05" x2="321" y2="239.05" stroke="#f2f2f2" stroke-width="1"/>
<line x1="30.3" y1="256.65" x2="321" y2="256.65" stroke="#1e1e1e" stroke-width="1.4"/>
<line x1="31.1" y1="256.5" x2="31.1" y2="344.4" stroke="#1e1e1e" stroke-width="1.6"/>
<line x1="30.3" y1="344.6" x2="321" y2="344.6" stroke="#222" stroke-width="1.3"/>
<line x1="30.3" y1="345.85" x2="321" y2="345.85" stroke="#f2f2f2" stroke-width="1"/>
<line x1="30.3" y1="362.75" x2="321" y2="362.75" stroke="#1e1e1e" stroke-width="1.4"/>
<line x1="31.1" y1="362.6" x2="31.1" y2="449.2" stroke="#1e1e1e" stroke-width="1.6"/>
<line x1="30.3" y1="449.4" x2="321" y2="449.4" stroke="#222" stroke-width="1.3"/>
<line x1="30.3" y1="450.65" x2="321" y2="450.65" stroke="#f2f2f2" stroke-width="1"/>
<line x1="28" y1="49.72" x2="30.3" y2="49.72" stroke="#1c1c1c" stroke-width="1"/>
<line x1="28" y1="53.01" x2="30.3" y2="53.01" stroke="#1c1c1c" stroke-width="1"/>
<line x1="28" y1="56.31" x2="30.3" y2="56.31" stroke="#1c1c1c" stroke-width="1"/>
<line x1="28" y1="59.6" x2="30.3" y2="59.6" stroke="#1c1c1c" stroke-width="1"/>
<line x1="28" y1="66.19" x2="30.3" y2="66.19" stroke="#1c1c1c" stroke-width="1"/>
<line x1="28" y1="69.48" x2="30.3" y2="69.48" stroke="#1c1c1c" stroke-width="1"/>
<line x1="28" y1="72.78" x2="30.3" y2="72.78" stroke="#1c1c1c" stroke-width="1"/>
<line x1="28" y1="76.07" x2="30.3" y2="76.07" stroke="#1c1c1c" stroke-width="1"/>
<line x1="28" y1="82.66" x2="30.3" y2="82.66" stroke="#1c1c1c" stroke-width="1"/>
<line x1="28" y1="85.95" x2="30.3" y2="85.95" stroke="#1c1c1c" stroke-width="1"/>
<line x1="28" y1="89.25" x2="30.3" y2="89.25" stroke="#1c1c1c" stroke-width="1"/>
<line x1="28" y1="92.54" x2="30.3" y2="92.54" stroke="#1c1c1c" stroke-width="1"/>
<line x1="28" y1="99.13" x2="30.3" y2="99.13" stroke="#1c1c1c" stroke-width="1"/>
<line x1="28" y1="102.42" x2="30.3" y2="102.42" stroke="#1c1c1c" stroke-width="1"/>
<line x1="28" y1="105.72" x2="30.3" y2="105.72" stroke="#1c1c1c" stroke-width="1"/>
<line x1="28" y1="109.01" x2="30.3" y2="109.01" stroke="#1c1c1c" stroke-width="1"/>
<line x1="28" y1="115.6" x2="30.3" y2="115.6" stroke="#1c1c1c" stroke-width="1"/>
<line x1="28" y1="118.89" x2="30.3" y2="118.89" stroke="#1c1c1c" stroke-width="1"/>
<line x1="28" y1="122.19" x2="30.3" y2="122.19" stroke="#1c1c1c" stroke-width="1"/>
<line x1="28" y1="125.48" x2="30.3" y2="125.48" stroke="#1c1c1c" stroke-width="1"/>
<line x1="26" y1="62.9" x2="30.3" y2="62.9" stroke="#1c1c1c" stroke-width="1.3"/>
<text x="22.7" y="62" font-size="8.6" font-weight="normal" text-anchor="end" fill="#111" textLength="16.2" lengthAdjust="spacingAndGlyphs" stroke="#111" stroke-width="0.3">1600</text>
<line x1="26" y1="79.37" x2="30.3" y2="79.37" stroke="#1c1c1c" stroke-width="1.3"/>
<text x="22.7" y="78.47" font-size="8.6" font-weight="normal" text-anchor="end" fill="#111" textLength="16.2" lengthAdjust="spacingAndGlyphs" stroke="#111" stroke-width="0.3">1200</text>
<line x1="26" y1="95.84" x2="30.3" y2="95.84" stroke="#1c1c1c" stroke-width="1.3"/>
<text x="22.7" y="94.94" font-size="8.6" font-weight="normal" text-anchor="end" fill="#111" textLength="12.1" lengthAdjust="spacingAndGlyphs" stroke="#111" stroke-width="0.3">800</text>
<line x1="26" y1="112.31" x2="30.3" y2="112.31" stroke="#1c1c1c" stroke-width="1.3"/>
<text x="22.7" y="111.41" font-size="8.6" font-weight="normal" text-anchor="end" fill="#111" textLength="12.1" lengthAdjust="spacingAndGlyphs" stroke="#111" stroke-width="0.3">400</text>
<line x1="26" y1="128.78" x2="30.3" y2="128.78" stroke="#1c1c1c" stroke-width="1.3"/>
<text x="22.7" y="127.88" font-size="8.6" font-weight="normal" text-anchor="end" fill="#111" stroke="#111" stroke-width="0.3">0</text>
<line x1="28" y1="152.38" x2="30.3" y2="152.38" stroke="#1c1c1c" stroke-width="1"/>
<line x1="28" y1="170.62" x2="30.3" y2="170.62" stroke="#1c1c1c" stroke-width="1"/>
<line x1="28" y1="188.88" x2="30.3" y2="188.88" stroke="#1c1c1c" stroke-width="1"/>
<line x1="28" y1="207.12" x2="30.3" y2="207.12" stroke="#1c1c1c" stroke-width="1"/>
<line x1="28" y1="225.38" x2="30.3" y2="225.38" stroke="#1c1c1c" stroke-width="1"/>
<line x1="26" y1="161.5" x2="30.3" y2="161.5" stroke="#1c1c1c" stroke-width="1.3"/>
<text x="22.7" y="160.6" font-size="8.6" font-weight="normal" text-anchor="end" fill="#111" textLength="16.2" lengthAdjust="spacingAndGlyphs" stroke="#111" stroke-width="0.3">4000</text>
<line x1="26" y1="179.75" x2="30.3" y2="179.75" stroke="#1c1c1c" stroke-width="1.3"/>
<text x="22.7" y="178.85" font-size="8.6" font-weight="normal" text-anchor="end" fill="#111" textLength="16.2" lengthAdjust="spacingAndGlyphs" stroke="#111" stroke-width="0.3">3000</text>
<line x1="26" y1="198" x2="30.3" y2="198" stroke="#1c1c1c" stroke-width="1.3"/>
<text x="22.7" y="197.1" font-size="8.6" font-weight="normal" text-anchor="end" fill="#111" textLength="16.2" lengthAdjust="spacingAndGlyphs" stroke="#111" stroke-width="0.3">2000</text>
<line x1="26" y1="216.25" x2="30.3" y2="216.25" stroke="#1c1c1c" stroke-width="1.3"/>
<text x="22.7" y="215.35" font-size="8.6" font-weight="normal" text-anchor="end" fill="#111" textLength="16.2" lengthAdjust="spacingAndGlyphs" stroke="#111" stroke-width="0.3">1000</text>
<line x1="26" y1="234.5" x2="30.3" y2="234.5" stroke="#1c1c1c" stroke-width="1.3"/>
<text x="22.7" y="233.6" font-size="8.6" font-weight="normal" text-anchor="end" fill="#111" stroke="#111" stroke-width="0.3">0</text>
<line x1="28" y1="262.8" x2="30.3" y2="262.8" stroke="#1c1c1c" stroke-width="1"/>
<line x1="28" y1="268.3" x2="30.3" y2="268.3" stroke="#1c1c1c" stroke-width="1"/>
<line x1="28" y1="279.3" x2="30.3" y2="279.3" stroke="#1c1c1c" stroke-width="1"/>
<line x1="28" y1="284.8" x2="30.3" y2="284.8" stroke="#1c1c1c" stroke-width="1"/>
<line x1="28" y1="295.8" x2="30.3" y2="295.8" stroke="#1c1c1c" stroke-width="1"/>
<line x1="28" y1="301.3" x2="30.3" y2="301.3" stroke="#1c1c1c" stroke-width="1"/>
<line x1="28" y1="312.3" x2="30.3" y2="312.3" stroke="#1c1c1c" stroke-width="1"/>
<line x1="28" y1="317.8" x2="30.3" y2="317.8" stroke="#1c1c1c" stroke-width="1"/>
<line x1="28" y1="328.8" x2="30.3" y2="328.8" stroke="#1c1c1c" stroke-width="1"/>
<line x1="28" y1="334.3" x2="30.3" y2="334.3" stroke="#1c1c1c" stroke-width="1"/>
<line x1="26" y1="273.8" x2="30.3" y2="273.8" stroke="#1c1c1c" stroke-width="1.3"/>
<text x="22.7" y="272.9" font-size="8.6" font-weight="normal" text-anchor="end" fill="#111" textLength="16.2" lengthAdjust="spacingAndGlyphs" stroke="#111" stroke-width="0.3">4800</text>
<line x1="26" y1="290.3" x2="30.3" y2="290.3" stroke="#1c1c1c" stroke-width="1.3"/>
<text x="22.7" y="289.4" font-size="8.6" font-weight="normal" text-anchor="end" fill="#111" textLength="16.2" lengthAdjust="spacingAndGlyphs" stroke="#111" stroke-width="0.3">3600</text>
<line x1="26" y1="306.8" x2="30.3" y2="306.8" stroke="#1c1c1c" stroke-width="1.3"/>
<text x="22.7" y="305.9" font-size="8.6" font-weight="normal" text-anchor="end" fill="#111" textLength="16.2" lengthAdjust="spacingAndGlyphs" stroke="#111" stroke-width="0.3">2400</text>
<line x1="26" y1="323.3" x2="30.3" y2="323.3" stroke="#1c1c1c" stroke-width="1.3"/>
<text x="22.7" y="322.4" font-size="8.6" font-weight="normal" text-anchor="end" fill="#111" textLength="16.2" lengthAdjust="spacingAndGlyphs" stroke="#111" stroke-width="0.3">1200</text>
<line x1="26" y1="339.8" x2="30.3" y2="339.8" stroke="#1c1c1c" stroke-width="1.3"/>
<text x="22.7" y="338.9" font-size="8.6" font-weight="normal" text-anchor="end" fill="#111" stroke="#111" stroke-width="0.3">0</text>
<line x1="28" y1="367.83" x2="30.3" y2="367.83" stroke="#1c1c1c" stroke-width="1"/>
<line x1="28" y1="373.36" x2="30.3" y2="373.36" stroke="#1c1c1c" stroke-width="1"/>
<line x1="28" y1="384.43" x2="30.3" y2="384.43" stroke="#1c1c1c" stroke-width="1"/>
<line x1="28" y1="389.96" x2="30.3" y2="389.96" stroke="#1c1c1c" stroke-width="1"/>
<line x1="28" y1="401.03" x2="30.3" y2="401.03" stroke="#1c1c1c" stroke-width="1"/>
<line x1="28" y1="406.56" x2="30.3" y2="406.56" stroke="#1c1c1c" stroke-width="1"/>
<line x1="28" y1="417.63" x2="30.3" y2="417.63" stroke="#1c1c1c" stroke-width="1"/>
<line x1="28" y1="423.16" x2="30.3" y2="423.16" stroke="#1c1c1c" stroke-width="1"/>
<line x1="28" y1="434.23" x2="30.3" y2="434.23" stroke="#1c1c1c" stroke-width="1"/>
<line x1="28" y1="439.76" x2="30.3" y2="439.76" stroke="#1c1c1c" stroke-width="1"/>
<line x1="26" y1="378.9" x2="30.3" y2="378.9" stroke="#1c1c1c" stroke-width="1.3"/>
<text x="22.7" y="378" font-size="8.6" font-weight="normal" text-anchor="end" fill="#111" textLength="16.2" lengthAdjust="spacingAndGlyphs" stroke="#111" stroke-width="0.3">4800</text>
<line x1="26" y1="395.5" x2="30.3" y2="395.5" stroke="#1c1c1c" stroke-width="1.3"/>
<text x="22.7" y="394.6" font-size="8.6" font-weight="normal" text-anchor="end" fill="#111" textLength="16.2" lengthAdjust="spacingAndGlyphs" stroke="#111" stroke-width="0.3">3600</text>
<line x1="26" y1="412.1" x2="30.3" y2="412.1" stroke="#1c1c1c" stroke-width="1.3"/>
<text x="22.7" y="411.2" font-size="8.6" font-weight="normal" text-anchor="end" fill="#111" textLength="16.2" lengthAdjust="spacingAndGlyphs" stroke="#111" stroke-width="0.3">2400</text>
<line x1="26" y1="428.7" x2="30.3" y2="428.7" stroke="#1c1c1c" stroke-width="1.3"/>
<text x="22.7" y="427.8" font-size="8.6" font-weight="normal" text-anchor="end" fill="#111" textLength="16.2" lengthAdjust="spacingAndGlyphs" stroke="#111" stroke-width="0.3">1200</text>
<line x1="26" y1="445.3" x2="30.3" y2="445.3" stroke="#1c1c1c" stroke-width="1.3"/>
<text x="22.7" y="444.4" font-size="8.6" font-weight="normal" text-anchor="end" fill="#111" stroke="#111" stroke-width="0.3">0</text>
<rect x="35.5" y="136.9" width="9.2" height="9.2" fill="#0e1d4c"/>
<rect x="36.2" y="137.6" width="7.4" height="7.4" fill="#9fbdea"/>
<rect x="37.2" y="138.6" width="6.4" height="6.4" fill="#3b68c0"/>
<rect x="37.8" y="139.2" width="3.3" height="3.9" fill="#5585d6"/>
<rect x="46.4" y="136.9" width="9.2" height="9.2" fill="#0e1d4c"/>
<rect x="47.1" y="137.6" width="7.4" height="7.4" fill="#9fbdea"/>
<rect x="48.1" y="138.6" width="6.4" height="6.4" fill="#3b68c0"/>
<rect x="48.7" y="139.2" width="3.3" height="3.9" fill="#5585d6"/>
<rect x="35.5" y="242.4" width="9.2" height="9.2" fill="#0e1d4c"/>
<rect x="36.2" y="243.1" width="7.4" height="7.4" fill="#9fbdea"/>
<rect x="37.2" y="244.1" width="6.4" height="6.4" fill="#3b68c0"/>
<rect x="37.8" y="244.7" width="3.3" height="3.9" fill="#5585d6"/>
<rect x="46.4" y="242.4" width="9.2" height="9.2" fill="#0e1d4c"/>
<rect x="47.1" y="243.1" width="7.4" height="7.4" fill="#9fbdea"/>
<rect x="48.1" y="244.1" width="6.4" height="6.4" fill="#3b68c0"/>
<rect x="48.7" y="244.7" width="3.3" height="3.9" fill="#5585d6"/>
<rect x="35.5" y="348.3" width="9.2" height="9.2" fill="#0e1d4c"/>
<rect x="36.2" y="349" width="7.4" height="7.4" fill="#9fbdea"/>
<rect x="37.2" y="350" width="6.4" height="6.4" fill="#3b68c0"/>
<rect x="37.8" y="350.6" width="3.3" height="3.9" fill="#5585d6"/>
<rect x="46.4" y="348.3" width="9.2" height="9.2" fill="#0e1d4c"/>
<rect x="47.1" y="349" width="7.4" height="7.4" fill="#9fbdea"/>
<rect x="48.1" y="350" width="6.4" height="6.4" fill="#3b68c0"/>
<rect x="48.7" y="350.6" width="3.3" height="3.9" fill="#5585d6"/>
<rect x="35.5" y="453.6" width="9.2" height="9.2" fill="#0e1d4c"/>
<rect x="36.2" y="454.3" width="7.4" height="7.4" fill="#9fbdea"/>
<rect x="37.2" y="455.3" width="6.4" height="6.4" fill="#3b68c0"/>
<rect x="37.8" y="455.9" width="3.3" height="3.9" fill="#5585d6"/>
<rect x="46.4" y="453.6" width="9.2" height="9.2" fill="#0e1d4c"/>
<rect x="47.1" y="454.3" width="7.4" height="7.4" fill="#9fbdea"/>
<rect x="48.1" y="455.3" width="6.4" height="6.4" fill="#3b68c0"/>
<rect x="48.7" y="455.9" width="3.3" height="3.9" fill="#5585d6"/>
<line x1="0" y1="464" x2="59" y2="464" stroke="#111" stroke-width="1.6"/>
<line x1="59" y1="464.3" x2="321" y2="464.3" stroke="#8a8a8a" stroke-width="1.2"/>
<text x="42.5" y="75.6" font-size="15.8" font-weight="bold" text-anchor="start" fill="#111" textLength="68" lengthAdjust="spacingAndGlyphs" stroke="#111" stroke-width="0.45" stroke-linejoin="round">POST-TX</text>
<text x="38.8" y="174" font-size="15.8" font-weight="bold" text-anchor="start" fill="#111" textLength="68.6" lengthAdjust="spacingAndGlyphs" stroke="#111" stroke-width="0.45" stroke-linejoin="round">POST-TX</text>
<text x="47.6" y="286.2" font-size="15.8" font-weight="bold" text-anchor="start" fill="#111" textLength="57.5" lengthAdjust="spacingAndGlyphs" stroke="#111" stroke-width="0.45" stroke-linejoin="round">DONOR</text>
<text x="107" y="389.6" font-size="15.8" font-weight="bold" text-anchor="start" fill="#111" textLength="146.6" lengthAdjust="spacingAndGlyphs" stroke="#111" stroke-width="0.45" stroke-linejoin="round">RECIPIENT PRE-TX</text>
<text x="239.2" y="66.7" font-size="19.8" font-weight="normal" text-anchor="start" fill="#111" textLength="48.2" lengthAdjust="spacingAndGlyphs" stroke="#111" stroke-width="0.35">9 sec</text>
<text x="229.6" y="90.8" font-size="19.8" font-weight="normal" text-anchor="start" fill="#111" textLength="74.2" lengthAdjust="spacingAndGlyphs" stroke="#111" stroke-width="0.35">injection</text>
<text x="233.4" y="171.6" font-size="19.8" font-weight="normal" text-anchor="start" fill="#111" textLength="58.8" lengthAdjust="spacingAndGlyphs" stroke="#111" stroke-width="0.35">22 sec</text>
<text x="229.3" y="196.1" font-size="19.8" font-weight="normal" text-anchor="start" fill="#111" textLength="74.6" lengthAdjust="spacingAndGlyphs" stroke="#111" stroke-width="0.35">injection</text>
<text x="148.8" y="360.5" font-size="19.4" font-weight="bold" text-anchor="start" fill="#111" textLength="21.4" lengthAdjust="spacingAndGlyphs" stroke="#111" stroke-width="0.45" stroke-linejoin="round">11</text>
<text x="190" y="360.5" font-size="19.4" font-weight="bold" text-anchor="start" fill="#111" textLength="21.4" lengthAdjust="spacingAndGlyphs" stroke="#111" stroke-width="0.45" stroke-linejoin="round">12</text>
<text x="74.3" y="464.2" font-size="19.4" font-weight="bold" text-anchor="start" fill="#111" stroke="#111" stroke-width="0.45" stroke-linejoin="round">8</text>
<text x="271.6" y="464.4" font-size="19.4" font-weight="bold" text-anchor="start" fill="#111" textLength="21.8" lengthAdjust="spacingAndGlyphs" stroke="#111" stroke-width="0.45" stroke-linejoin="round">13</text>
<rect x="423" y="22.4" width="317" height="436" fill="#cacaca"/>
<rect x="422.7" y="22.8" width="13.3" height="15.4" fill="#0a0a0a"/>
<line x1="424.85" y1="30.2" x2="434.25" y2="30.2" stroke="#fff" stroke-width="1.15"/>
<line x1="429.55" y1="25.3" x2="429.55" y2="35.1" stroke="#fff" stroke-width="1.15"/>
<rect x="436" y="22.8" width="17.3" height="16.3" fill="#151515"/>
<rect x="437.1" y="23.9" width="15.1" height="13.9" fill="#fff"/>
<circle cx="442.6" cy="29.1" r="3.7" fill="#fff" stroke="#111" stroke-width="1.25"/>
<line x1="445.5" y1="32.2" x2="449.5" y2="36.5" stroke="#111" stroke-width="1.9" stroke-linecap="round"/>
<line x1="452.8" y1="38.9" x2="740" y2="38.9" stroke="#1c1c1c" stroke-width="1.25"/>
<rect x="452.8" y="39.8" width="287.2" height="3.5" fill="#d2d2d2"/>
<line x1="452.8" y1="41.5" x2="740" y2="41.5" stroke="#e6e6e6" stroke-width="0.9"/>
<line x1="457" y1="36" x2="457" y2="38.9" stroke="#1c1c1c" stroke-width="1.1"/>
<text x="456.4" y="34.2" font-size="8.6" font-weight="normal" text-anchor="start" fill="#111" textLength="12.6" lengthAdjust="spacingAndGlyphs" stroke="#111" stroke-width="0.3">218</text>
<line x1="477.4" y1="36" x2="477.4" y2="38.9" stroke="#1c1c1c" stroke-width="1.1"/>
<text x="476.8" y="34.2" font-size="8.6" font-weight="normal" text-anchor="start" fill="#111" textLength="12.6" lengthAdjust="spacingAndGlyphs" stroke="#111" stroke-width="0.3">220</text>
<line x1="497.8" y1="36" x2="497.8" y2="38.9" stroke="#1c1c1c" stroke-width="1.1"/>
<text x="497.2" y="34.2" font-size="8.6" font-weight="normal" text-anchor="start" fill="#111" textLength="12.6" lengthAdjust="spacingAndGlyphs" stroke="#111" stroke-width="0.3">222</text>
<line x1="518.2" y1="36" x2="518.2" y2="38.9" stroke="#1c1c1c" stroke-width="1.1"/>
<text x="517.6" y="34.2" font-size="8.6" font-weight="normal" text-anchor="start" fill="#111" textLength="12.6" lengthAdjust="spacingAndGlyphs" stroke="#111" stroke-width="0.3">224</text>
<line x1="538.6" y1="36" x2="538.6" y2="38.9" stroke="#1c1c1c" stroke-width="1.1"/>
<text x="538" y="34.2" font-size="8.6" font-weight="normal" text-anchor="start" fill="#111" textLength="12.6" lengthAdjust="spacingAndGlyphs" stroke="#111" stroke-width="0.3">226</text>
<line x1="559" y1="36" x2="559" y2="38.9" stroke="#1c1c1c" stroke-width="1.1"/>
<text x="558.4" y="34.2" font-size="8.6" font-weight="normal" text-anchor="start" fill="#111" textLength="12.6" lengthAdjust="spacingAndGlyphs" stroke="#111" stroke-width="0.3">228</text>
<line x1="579.4" y1="36" x2="579.4" y2="38.9" stroke="#1c1c1c" stroke-width="1.1"/>
<text x="578.8" y="34.2" font-size="8.6" font-weight="normal" text-anchor="start" fill="#111" textLength="12.6" lengthAdjust="spacingAndGlyphs" stroke="#111" stroke-width="0.3">230</text>
<line x1="599.8" y1="36" x2="599.8" y2="38.9" stroke="#1c1c1c" stroke-width="1.1"/>
<text x="599.2" y="34.2" font-size="8.6" font-weight="normal" text-anchor="start" fill="#111" textLength="12.6" lengthAdjust="spacingAndGlyphs" stroke="#111" stroke-width="0.3">232</text>
<line x1="620.2" y1="36" x2="620.2" y2="38.9" stroke="#1c1c1c" stroke-width="1.1"/>
<text x="619.6" y="34.2" font-size="8.6" font-weight="normal" text-anchor="start" fill="#111" textLength="12.6" lengthAdjust="spacingAndGlyphs" stroke="#111" stroke-width="0.3">234</text>
<line x1="640.6" y1="36" x2="640.6" y2="38.9" stroke="#1c1c1c" stroke-width="1.1"/>
<text x="640" y="34.2" font-size="8.6" font-weight="normal" text-anchor="start" fill="#111" textLength="12.6" lengthAdjust="spacingAndGlyphs" stroke="#111" stroke-width="0.3">236</text>
<line x1="661" y1="36" x2="661" y2="38.9" stroke="#1c1c1c" stroke-width="1.1"/>
<text x="660.4" y="34.2" font-size="8.6" font-weight="normal" text-anchor="start" fill="#111" textLength="12.6" lengthAdjust="spacingAndGlyphs" stroke="#111" stroke-width="0.3">238</text>
<line x1="681.4" y1="36" x2="681.4" y2="38.9" stroke="#1c1c1c" stroke-width="1.1"/>
<text x="680.8" y="34.2" font-size="8.6" font-weight="normal" text-anchor="start" fill="#111" textLength="12.6" lengthAdjust="spacingAndGlyphs" stroke="#111" stroke-width="0.3">240</text>
<line x1="701.8" y1="36" x2="701.8" y2="38.9" stroke="#1c1c1c" stroke-width="1.1"/>
<text x="701.2" y="34.2" font-size="8.6" font-weight="normal" text-anchor="start" fill="#111" textLength="12.6" lengthAdjust="spacingAndGlyphs" stroke="#111" stroke-width="0.3">242</text>
<line x1="722.2" y1="36" x2="722.2" y2="38.9" stroke="#1c1c1c" stroke-width="1.1"/>
<text x="721.6" y="34.2" font-size="8.6" font-weight="normal" text-anchor="start" fill="#111" textLength="12.6" lengthAdjust="spacingAndGlyphs" stroke="#111" stroke-width="0.3">244</text>
<rect x="451.8" y="44.1" width="288.2" height="86.2" fill="#ffffff"/>
<rect x="451.8" y="148.3" width="288.2" height="86.4" fill="#ffffff"/>
<rect x="451.8" y="253.1" width="288.2" height="86.1" fill="#ffffff"/>
<rect x="451.8" y="357.3" width="288.2" height="85.8" fill="#ffffff"/>
<clipPath id="c5"><rect x="453" y="44.8" width="288" height="84.4"/></clipPath>
<path d="M454 124.99 L454.5 125.02 L455 125.1 L455.5 125.2 L456 125.31 L456.5 125.41 L457 125.49 L457.5 125.54 L458 125.55 L458.5 125.53 L459 125.49 L459.5 125.44 L460 125.39 L460.5 125.36 L461 125.33 L461.5 125.32 L462 125.32 L462.5 125.32 L463 125.32 L463.5 125.31 L464 125.28 L464.5 125.23 L465 125.18 L465.5 125.12 L466 125.07 L466.5 125.03 L467 125 L467.5 124.98 L468 124.97 L468.5 124.96 L469 124.94 L469.5 124.9 L470 124.85 L470.5 124.77 L471 124.68 L471.5 124.6 L472 124.55 L472.5 124.53 L473 124.57 L473.5 124.67 L474 124.83 L474.5 125.05 L475 125.3 L475.5 125.55 L476 125.79 L476.5 125.97 L477 126.07 L477.5 126.09 L478 126.02 L478.5 125.87 L479 125.66 L479.5 125.42 L480 125.18 L480.5 124.95 L481 124.77 L481.5 124.63 L482 124.53 L482.5 124.47 L483 124.41 L483.5 124.35 L484 124.26 L484.5 124.12 L485 123.94 L485.5 123.72 L486 123.48 L486.5 123.24 L487 123.02 L487.5 122.85 L488 122.74 L488.5 122.7 L489 122.72 L489.5 122.79 L490 122.88 L490.5 122.96 L491 123.01 L491.5 123 L492 122.91 L492.5 122.75 L493 122.51 L493.5 122.23 L494 121.93 L494.5 121.63 L495 121.38 L495.5 121.18 L496 121.06 L496.5 121.02 L497 121.07 L497.5 121.19 L498 121.38 L498.5 121.61 L499 121.87 L499.5 122.15 L500 122.43 L500.5 122.72 L501 123.01 L501.5 123.28 L502 123.55 L502.5 123.78 L503 123.99 L503.5 124.16 L504 124.28 L504.5 124.35 L505 124.37 L505.5 124.35 L506 124.29 L506.5 124.22 L507 124.14 L507.5 124.08 L508 124.05 L508.5 124.06 L509 124.11 L509.5 124.19 L510 124.29 L510.5 124.4 L511 124.48 L511.5 124.53 L512 124.55 L512.5 124.52 L513 124.46 L513.5 124.4 L514 124.34 L514.5 124.32 L515 124.34 L515.5 124.44 L516 124.59 L516.5 124.8 L517 125.04 L517.5 125.29 L518 125.51 L518.5 125.68 L519 125.76 L519.5 125.76 L520 125.67 L520.5 125.51 L521 125.3 L521.5 125.07 L522 124.86 L522.5 124.69 L523 124.58 L523.5 124.54 L524 124.57 L524.5 124.65 L525 124.76 L525.5 124.87 L526 124.97 L526.5 125.02 L527 125.02 L527.5 124.95 L528 124.82 L528.5 124.63 L529 124.38 L529.5 124.09 L530 123.76 L530.5 123.37 L531 122.91 L531.5 122.38 L532 121.76 L532.5 121.04 L533 120.23 L533.5 119.33 L534 118.38 L534.5 117.42 L535 116.5 L535.5 115.68 L536 115.01 L536.5 114.53 L537 114.28 L537.5 114.27 L538 114.5 L538.5 114.95 L539 115.58 L539.5 116.34 L540 117.2 L540.5 118.1 L541 119.01 L541.5 119.9 L542 120.76 L542.5 121.56 L543 122.3 L543.5 122.98 L544 123.59 L544.5 124.12 L545 124.58 L545.5 124.95 L546 125.22 L546.5 125.41 L547 125.51 L547.5 125.53 L548 125.5 L548.5 125.45 L549 125.39 L549.5 125.34 L550 125.34 L550.5 125.37 L551 125.44 L551.5 125.54 L552 125.65 L552.5 125.74 L553 125.79 L553.5 125.78 L554 125.69 L554.5 125.53 L555 125.32 L555.5 125.05 L556 124.77 L556.5 124.49 L557 124.23 L557.5 124 L558 123.79 L558.5 123.59 L559 123.35 L559.5 123.05 L560 122.63 L560.5 122.05 L561 121.27 L561.5 120.28 L562 119.05 L562.5 117.61 L563 115.98 L563.5 114.19 L564 112.3 L564.5 110.35 L565 108.4 L565.5 106.47 L566 104.59 L566.5 102.76 L567 100.95 L567.5 99.08 L568 97.06 L568.5 94.72 L569 91.83 L569.5 88.14 L570 83.3 L570.5 76.97 L571 68.75 L571.5 58.29 L572 45.32 L572.5 38.8 L573 38.8 L573.5 38.8 L574 38.8 L574.5 38.8 L575 38.8 L575.5 38.8 L576 38.8 L576.5 38.8 L577 38.8 L577.5 38.8 L578 38.8 L578.5 38.8 L579 38.8 L579.5 38.8 L580 38.8 L580.5 38.8 L581 38.8 L581.5 38.8 L582 38.8 L582.5 38.8 L583 45.17 L583.5 61.86 L584 75.86 L584.5 87.31 L585 96.45 L585.5 103.62 L586 109.14 L586.5 113.33 L587 116.45 L587.5 118.75 L588 120.42 L588.5 121.59 L589 122.38 L589.5 122.9 L590 123.23 L590.5 123.42 L591 123.54 L591.5 123.64 L592 123.75 L592.5 123.89 L593 124.07 L593.5 124.26 L594 124.47 L594.5 124.67 L595 124.82 L595.5 124.91 L596 124.92 L596.5 124.86 L597 124.72 L597.5 124.52 L598 124.28 L598.5 124.01 L599 123.73 L599.5 123.43 L600 123.11 L600.5 122.75 L601 122.3 L601.5 121.74 L602 121.02 L602.5 120.12 L603 118.99 L603.5 117.64 L604 116.07 L604.5 114.31 L605 112.39 L605.5 110.35 L606 108.25 L606.5 106.12 L607 103.99 L607.5 101.86 L608 99.71 L608.5 97.45 L609 94.97 L609.5 92.1 L610 88.62 L610.5 84.29 L611 78.8 L611.5 71.85 L612 63.16 L612.5 52.48 L613 39.64 L613.5 38.8 L614 38.8 L614.5 38.8 L615 38.8 L615.5 38.8 L616 38.8 L616.5 38.8 L617 38.8 L617.5 38.8 L618 38.8 L618.5 38.8 L619 38.8 L619.5 38.8 L620 38.8 L620.5 38.8 L621 38.8 L621.5 38.8 L622 38.8 L622.5 38.8 L623 38.8 L623.5 38.8 L624 40.85 L624.5 56.95 L625 70.78 L625.5 82.39 L626 91.91 L626.5 99.56 L627 105.62 L627.5 110.35 L628 113.99 L628.5 116.76 L629 118.84 L629.5 120.37 L630 121.46 L630.5 122.2 L631 122.68 L631.5 122.95 L632 123.08 L632.5 123.13 L633 123.14 L633.5 123.17 L634 123.24 L634.5 123.38 L635 123.58 L635.5 123.84 L636 124.13 L636.5 124.44 L637 124.74 L637.5 124.99 L638 125.19 L638.5 125.33 L639 125.41 L639.5 125.45 L640 125.46 L640.5 125.46 L641 125.47 L641.5 125.5 L642 125.56 L642.5 125.63 L643 125.72 L643.5 125.8 L644 125.86 L644.5 125.89 L645 125.87 L645.5 125.81 L646 125.71 L646.5 125.57 L647 125.42 L647.5 125.26 L648 125.1 L648.5 124.97 L649 124.85 L649.5 124.75 L650 124.67 L650.5 124.6 L651 124.53 L651.5 124.47 L652 124.41 L652.5 124.36 L653 124.31 L653.5 124.29 L654 124.28 L654.5 124.3 L655 124.34 L655.5 124.39 L656 124.44 L656.5 124.48 L657 124.5 L657.5 124.49 L658 124.45 L658.5 124.38 L659 124.29 L659.5 124.21 L660 124.15 L660.5 124.13 L661 124.17 L661.5 124.27 L662 124.44 L662.5 124.65 L663 124.89 L663.5 125.13 L664 125.35 L664.5 125.51 L665 125.59 L665.5 125.6 L666 125.54 L666.5 125.42 L667 125.26 L667.5 125.1 L668 124.97 L668.5 124.88 L669 124.84 L669.5 124.87 L670 124.94 L670.5 125.04 L671 125.14 L671.5 125.23 L672 125.27 L672.5 125.25 L673 125.17 L673.5 125.05 L674 124.89 L674.5 124.72 L675 124.58 L675.5 124.49 L676 124.46 L676.5 124.5 L677 124.61 L677.5 124.78 L678 124.99 L678.5 125.21 L679 125.42 L679.5 125.59 L680 125.72 L680.5 125.79 L681 125.82 L681.5 125.79 L682 125.74 L682.5 125.67 L683 125.59 L683.5 125.52 L684 125.45 L684.5 125.39 L685 125.34 L685.5 125.28 L686 125.21 L686.5 125.14 L687 125.06 L687.5 124.99 L688 124.92 L688.5 124.86 L689 124.83 L689.5 124.83 L690 124.85 L690.5 124.9 L691 124.96 L691.5 125.03 L692 125.09 L692.5 125.13 L693 125.15 L693.5 125.16 L694 125.16 L694.5 125.16 L695 125.18 L695.5 125.22 L696 125.29 L696.5 125.38 L697 125.5 L697.5 125.62 L698 125.73 L698.5 125.81 L699 125.83 L699.5 125.78 L700 125.67 L700.5 125.49 L701 125.28 L701.5 125.04 L702 124.82 L702.5 124.64 L703 124.53 L703.5 124.49 L704 124.54 L704.5 124.65 L705 124.82 L705.5 125 L706 125.18 L706.5 125.31 L707 125.4 L707.5 125.42 L708 125.37 L708.5 125.28 L709 125.16 L709.5 125.04 L710 124.95 L710.5 124.9 L711 124.91 L711.5 124.98 L712 125.1 L712.5 125.25 L713 125.41 L713.5 125.55 L714 125.65 L714.5 125.7 L715 125.69 L715.5 125.63 L716 125.54 L716.5 125.42 L717 125.31 L717.5 125.22 L718 125.16 L718.5 125.14 L719 125.15 L719.5 125.2 L720 125.25 L720.5 125.31 L721 125.36 L721.5 125.38 L722 125.37 L722.5 125.34 L723 125.28 L723.5 125.19 L724 125.09 L724.5 124.98 L725 124.85 L725.5 124.72 L726 124.56 L726.5 124.39 L727 124.2 L727.5 124 L728 123.8 L728.5 123.62 L729 123.49 L729.5 123.42 L730 123.43 L730.5 123.53 L731 123.73 L731.5 124 L732 124.32 L732.5 124.67 L733 125.01 L733.5 125.3 L734 125.53 L734.5 125.68 L735 125.75 L735.5 125.74 L736 125.68 L736.5 125.6 L737 125.51 L737.5 125.43 L738 125.4 L738.5 125.4 L739 125.43 L739.5 125.49 L740 125.55" fill="none" stroke="#4876c6" stroke-width="1.25" stroke-linejoin="round" clip-path="url(#c5)"/>
<clipPath id="c6"><rect x="453" y="149" width="288" height="85"/></clipPath>
<path d="M454 227.83 L454.5 227.78 L455 227.78 L455.5 227.84 L456 227.94 L456.5 228.08 L457 228.23 L457.5 228.4 L458 228.57 L458.5 228.72 L459 228.86 L459.5 228.99 L460 229.11 L460.5 229.22 L461 229.34 L461.5 229.45 L462 229.57 L462.5 229.68 L463 229.78 L463.5 229.85 L464 229.9 L464.5 229.9 L465 229.86 L465.5 229.79 L466 229.69 L466.5 229.58 L467 229.47 L467.5 229.4 L468 229.36 L468.5 229.38 L469 229.45 L469.5 229.58 L470 229.74 L470.5 229.92 L471 230.09 L471.5 230.25 L472 230.36 L472.5 230.42 L473 230.44 L473.5 230.4 L474 230.33 L474.5 230.24 L475 230.14 L475.5 230.05 L476 229.99 L476.5 229.95 L477 229.94 L477.5 229.95 L478 229.97 L478.5 229.99 L479 230 L479.5 229.98 L480 229.94 L480.5 229.87 L481 229.77 L481.5 229.66 L482 229.52 L482.5 229.37 L483 229.21 L483.5 229.04 L484 228.87 L484.5 228.68 L485 228.48 L485.5 228.28 L486 228.07 L486.5 227.86 L487 227.65 L487.5 227.47 L488 227.3 L488.5 227.15 L489 227 L489.5 226.84 L490 226.65 L490.5 226.38 L491 226.02 L491.5 225.54 L492 224.92 L492.5 224.17 L493 223.31 L493.5 222.39 L494 221.46 L494.5 220.61 L495 219.9 L495.5 219.4 L496 219.17 L496.5 219.23 L497 219.58 L497.5 220.21 L498 221.06 L498.5 222.07 L499 223.16 L499.5 224.27 L500 225.32 L500.5 226.28 L501 227.11 L501.5 227.8 L502 228.36 L502.5 228.79 L503 229.12 L503.5 229.39 L504 229.59 L504.5 229.76 L505 229.91 L505.5 230.03 L506 230.12 L506.5 230.19 L507 230.22 L507.5 230.23 L508 230.2 L508.5 230.15 L509 230.09 L509.5 230.02 L510 229.97 L510.5 229.92 L511 229.9 L511.5 229.89 L512 229.9 L512.5 229.91 L513 229.92 L513.5 229.92 L514 229.92 L514.5 229.9 L515 229.88 L515.5 229.86 L516 229.85 L516.5 229.86 L517 229.9 L517.5 229.96 L518 230.05 L518.5 230.16 L519 230.27 L519.5 230.36 L520 230.41 L520.5 230.42 L521 230.38 L521.5 230.28 L522 230.14 L522.5 229.97 L523 229.78 L523.5 229.61 L524 229.46 L524.5 229.36 L525 229.3 L525.5 229.28 L526 229.28 L526.5 229.27 L527 229.21 L527.5 229.05 L528 228.74 L528.5 228.24 L529 227.5 L529.5 226.49 L530 225.18 L530.5 223.56 L531 221.64 L531.5 219.45 L532 217.05 L532.5 214.51 L533 211.92 L533.5 209.42 L534 207.11 L534.5 205.14 L535 203.6 L535.5 202.61 L536 202.23 L536.5 202.49 L537 203.37 L537.5 204.82 L538 206.75 L538.5 209.05 L539 211.58 L539.5 214.2 L540 216.79 L540.5 219.23 L541 221.45 L541.5 223.37 L542 224.98 L542.5 226.28 L543 227.29 L543.5 228.04 L544 228.59 L544.5 228.98 L545 229.27 L545.5 229.49 L546 229.67 L546.5 229.82 L547 229.96 L547.5 230.07 L548 230.16 L548.5 230.21 L549 230.23 L549.5 230.19 L550 230.12 L550.5 230.02 L551 229.91 L551.5 229.79 L552 229.7 L552.5 229.64 L553 229.61 L553.5 229.61 L554 229.64 L554.5 229.66 L555 229.67 L555.5 229.63 L556 229.52 L556.5 229.3 L557 228.96 L557.5 228.46 L558 227.78 L558.5 226.88 L559 225.72 L559.5 224.27 L560 222.48 L560.5 220.28 L561 217.62 L561.5 214.46 L562 210.76 L562.5 206.5 L563 201.7 L563.5 196.41 L564 190.7 L564.5 184.7 L565 178.56 L565.5 172.47 L566 166.6 L566.5 161.13 L567 156.22 L567.5 151.94 L568 148.3 L568.5 145.15 L569 143 L569.5 143 L570 143 L570.5 143 L571 143 L571.5 143 L572 143 L572.5 143 L573 143 L573.5 143 L574 143 L574.5 143 L575 143 L575.5 143 L576 143 L576.5 143 L577 143 L577.5 143 L578 143 L578.5 143 L579 143 L579.5 143 L580 143 L580.5 143 L581 143 L581.5 143 L582 143 L582.5 143 L583 143 L583.5 143 L584 159.74 L584.5 178.7 L585 192.12 L585.5 201.41 L586 207.76 L586.5 212.11 L587 215.15 L587.5 217.35 L588 219.04 L588.5 220.41 L589 221.58 L589.5 222.6 L590 223.51 L590.5 224.31 L591 225.02 L591.5 225.65 L592 226.18 L592.5 226.65 L593 227.05 L593.5 227.4 L594 227.71 L594.5 227.97 L595 228.18 L595.5 228.33 L596 228.39 L596.5 228.34 L597 228.15 L597.5 227.79 L598 227.22 L598.5 226.42 L599 225.35 L599.5 224 L600 222.35 L600.5 220.37 L601 218.04 L601.5 215.34 L602 212.26 L602.5 208.78 L603 204.89 L603.5 200.61 L604 195.94 L604.5 190.95 L605 185.69 L605.5 180.27 L606 174.79 L606.5 169.4 L607 164.25 L607.5 159.47 L608 155.2 L608.5 151.54 L609 148.54 L609.5 146.16 L610 144.28 L610.5 143 L611 143 L611.5 143 L612 143 L612.5 143 L613 143 L613.5 143 L614 143 L614.5 143 L615 143 L615.5 143 L616 143 L616.5 143 L617 143 L617.5 143 L618 143 L618.5 143 L619 143 L619.5 143 L620 143 L620.5 143 L621 143 L621.5 143 L622 143 L622.5 143 L623 143 L623.5 143 L624 143 L624.5 159.01 L625 179.51 L625.5 193.73 L626 203.29 L626.5 209.59 L627 213.71 L627.5 216.44 L628 218.32 L628.5 219.71 L629 220.8 L629.5 221.74 L630 222.6 L630.5 223.4 L631 224.16 L631.5 224.88 L632 225.54 L632.5 226.14 L633 226.67 L633.5 227.12 L634 227.5 L634.5 227.82 L635 228.09 L635.5 228.32 L636 228.53 L636.5 228.73 L637 228.94 L637.5 229.14 L638 229.35 L638.5 229.54 L639 229.72 L639.5 229.88 L640 229.99 L640.5 230.07 L641 230.11 L641.5 230.11 L642 230.09 L642.5 230.05 L643 230 L643.5 229.96 L644 229.92 L644.5 229.89 L645 229.87 L645.5 229.85 L646 229.83 L646.5 229.8 L647 229.76 L647.5 229.72 L648 229.69 L648.5 229.67 L649 229.67 L649.5 229.7 L650 229.77 L650.5 229.88 L651 230.01 L651.5 230.16 L652 230.3 L652.5 230.42 L653 230.49 L653.5 230.49 L654 230.41 L654.5 230.25 L655 230 L655.5 229.69 L656 229.34 L656.5 228.96 L657 228.59 L657.5 228.25 L658 227.96 L658.5 227.74 L659 227.6 L659.5 227.53 L660 227.54 L660.5 227.61 L661 227.74 L661.5 227.9 L662 228.09 L662.5 228.29 L663 228.49 L663.5 228.7 L664 228.91 L664.5 229.11 L665 229.3 L665.5 229.49 L666 229.65 L666.5 229.8 L667 229.92 L667.5 230.01 L668 230.07 L668.5 230.1 L669 230.11 L669.5 230.1 L670 230.09 L670.5 230.07 L671 230.07 L671.5 230.08 L672 230.1 L672.5 230.12 L673 230.14 L673.5 230.15 L674 230.14 L674.5 230.09 L675 230.02 L675.5 229.92 L676 229.8 L676.5 229.67 L677 229.56 L677.5 229.48 L678 229.44 L678.5 229.45 L679 229.51 L679.5 229.6 L680 229.72 L680.5 229.85 L681 229.96 L681.5 230.03 L682 230.06 L682.5 230.03 L683 229.95 L683.5 229.82 L684 229.65 L684.5 229.46 L685 229.26 L685.5 229.08 L686 228.91 L686.5 228.76 L687 228.64 L687.5 228.53 L688 228.42 L688.5 228.32 L689 228.2 L689.5 228.06 L690 227.9 L690.5 227.73 L691 227.54 L691.5 227.35 L692 227.15 L692.5 226.94 L693 226.73 L693.5 226.51 L694 226.27 L694.5 226 L695 225.7 L695.5 225.37 L696 225.03 L696.5 224.69 L697 224.38 L697.5 224.13 L698 223.96 L698.5 223.9 L699 223.96 L699.5 224.15 L700 224.46 L700.5 224.88 L701 225.35 L701.5 225.87 L702 226.37 L702.5 226.85 L703 227.26 L703.5 227.6 L704 227.87 L704.5 228.08 L705 228.25 L705.5 228.4 L706 228.55 L706.5 228.72 L707 228.91 L707.5 229.14 L708 229.38 L708.5 229.63 L709 229.87 L709.5 230.08 L710 230.25 L710.5 230.36 L711 230.42 L711.5 230.42 L712 230.39 L712.5 230.33 L713 230.26 L713.5 230.2 L714 230.14 L714.5 230.1 L715 230.08 L715.5 230.07 L716 230.06 L716.5 230.05 L717 230.02 L717.5 229.98 L718 229.93 L718.5 229.87 L719 229.81 L719.5 229.77 L720 229.74 L720.5 229.74 L721 229.76 L721.5 229.81 L722 229.87 L722.5 229.95 L723 230.02 L723.5 230.08 L724 230.12 L724.5 230.14 L725 230.14 L725.5 230.12 L726 230.1 L726.5 230.09 L727 230.08 L727.5 230.08 L728 230.08 L728.5 230.09 L729 230.09 L729.5 230.06 L730 229.99 L730.5 229.88 L731 229.71 L731.5 229.48 L732 229.21 L732.5 228.91 L733 228.59 L733.5 228.29 L734 228.02 L734.5 227.8 L735 227.65 L735.5 227.58 L736 227.58 L736.5 227.65 L737 227.77 L737.5 227.93 L738 228.11 L738.5 228.29 L739 228.46 L739.5 228.62 L740 228.76" fill="none" stroke="#4876c6" stroke-width="1.25" stroke-linejoin="round" clip-path="url(#c6)"/>
<clipPath id="c7"><rect x="453" y="253.8" width="288" height="84.6"/></clipPath>
<path d="M454 334.72 L454.5 334.7 L455 334.67 L455.5 334.63 L456 334.58 L456.5 334.54 L457 334.49 L457.5 334.44 L458 334.38 L458.5 334.32 L459 334.26 L459.5 334.19 L460 334.14 L460.5 334.1 L461 334.07 L461.5 334.08 L462 334.11 L462.5 334.17 L463 334.25 L463.5 334.35 L464 334.45 L464.5 334.55 L465 334.64 L465.5 334.7 L466 334.74 L466.5 334.74 L467 334.72 L467.5 334.67 L468 334.6 L468.5 334.53 L469 334.45 L469.5 334.38 L470 334.32 L470.5 334.27 L471 334.23 L471.5 334.2 L472 334.18 L472.5 334.17 L473 334.16 L473.5 334.16 L474 334.17 L474.5 334.19 L475 334.23 L475.5 334.28 L476 334.35 L476.5 334.44 L477 334.53 L477.5 334.63 L478 334.72 L478.5 334.79 L479 334.82 L479.5 334.82 L480 334.77 L480.5 334.68 L481 334.56 L481.5 334.42 L482 334.27 L482.5 334.13 L483 334.02 L483.5 333.95 L484 333.94 L484.5 333.97 L485 334.04 L485.5 334.15 L486 334.28 L486.5 334.41 L487 334.52 L487.5 334.61 L488 334.67 L488.5 334.69 L489 334.67 L489.5 334.63 L490 334.57 L490.5 334.51 L491 334.46 L491.5 334.43 L492 334.42 L492.5 334.42 L493 334.44 L493.5 334.46 L494 334.46 L494.5 334.45 L495 334.42 L495.5 334.35 L496 334.27 L496.5 334.18 L497 334.09 L497.5 334.03 L498 334 L498.5 334.02 L499 334.09 L499.5 334.21 L500 334.37 L500.5 334.55 L501 334.72 L501.5 334.86 L502 334.96 L502.5 335 L503 334.96 L503.5 334.85 L504 334.69 L504.5 334.49 L505 334.29 L505.5 334.09 L506 333.94 L506.5 333.85 L507 333.83 L507.5 333.89 L508 334 L508.5 334.16 L509 334.33 L509.5 334.5 L510 334.63 L510.5 334.72 L511 334.75 L511.5 334.72 L512 334.65 L512.5 334.54 L513 334.43 L513.5 334.33 L514 334.26 L514.5 334.24 L515 334.26 L515.5 334.33 L516 334.42 L516.5 334.52 L517 334.61 L517.5 334.67 L518 334.68 L518.5 334.63 L519 334.54 L519.5 334.4 L520 334.24 L520.5 334.08 L521 333.95 L521.5 333.88 L522 333.87 L522.5 333.93 L523 334.07 L523.5 334.25 L524 334.46 L524.5 334.67 L525 334.84 L525.5 334.96 L526 334.99 L526.5 334.93 L527 334.77 L527.5 334.52 L528 334.2 L528.5 333.82 L529 333.4 L529.5 332.96 L530 332.49 L530.5 332 L531 331.47 L531.5 330.89 L532 330.22 L532.5 329.45 L533 328.58 L533.5 327.58 L534 326.49 L534.5 325.33 L535 324.15 L535.5 323.01 L536 321.96 L536.5 321.09 L537 320.45 L537.5 320.08 L538 320.01 L538.5 320.26 L539 320.79 L539.5 321.57 L540 322.56 L540.5 323.69 L541 324.89 L541.5 326.1 L542 327.28 L542.5 328.38 L543 329.37 L543.5 330.24 L544 331 L544.5 331.65 L545 332.2 L545.5 332.68 L546 333.09 L546.5 333.45 L547 333.76 L547.5 334.02 L548 334.24 L548.5 334.41 L549 334.53 L549.5 334.61 L550 334.64 L550.5 334.63 L551 334.6 L551.5 334.54 L552 334.47 L552.5 334.4 L553 334.33 L553.5 334.26 L554 334.21 L554.5 334.16 L555 334.11 L555.5 334.05 L556 333.97 L556.5 333.87 L557 333.73 L557.5 333.54 L558 333.28 L558.5 332.94 L559 332.48 L559.5 331.88 L560 331.1 L560.5 330.12 L561 328.9 L561.5 327.42 L562 325.66 L562.5 323.62 L563 321.32 L563.5 318.8 L564 316.09 L564.5 313.27 L565 310.42 L565.5 307.61 L566 304.9 L566.5 302.34 L567 299.92 L567.5 297.57 L568 295.17 L568.5 292.48 L569 289.17 L569.5 284.79 L570 278.79 L570.5 270.53 L571 259.33 L571.5 247.8 L572 247.8 L572.5 247.8 L573 247.8 L573.5 247.8 L574 247.8 L574.5 247.8 L575 247.8 L575.5 247.8 L576 247.8 L576.5 247.8 L577 247.8 L577.5 247.8 L578 247.8 L578.5 247.8 L579 247.8 L579.5 247.8 L580 247.8 L580.5 247.8 L581 247.8 L581.5 247.8 L582 247.8 L582.5 247.8 L583 247.8 L583.5 247.8 L584 266.47 L584.5 282.79 L585 295.48 L585.5 305.11 L586 312.28 L586.5 317.51 L587 321.29 L587.5 324 L588 325.95 L588.5 327.39 L589 328.5 L589.5 329.38 L590 330.14 L590.5 330.81 L591 331.44 L591.5 332.01 L592 332.54 L592.5 333 L593 333.38 L593.5 333.68 L594 333.88 L594.5 333.99 L595 334.02 L595.5 333.97 L596 333.86 L596.5 333.7 L597 333.51 L597.5 333.3 L598 333.04 L598.5 332.73 L599 332.35 L599.5 331.86 L600 331.22 L600.5 330.39 L601 329.35 L601.5 328.06 L602 326.51 L602.5 324.69 L603 322.61 L603.5 320.3 L604 317.79 L604.5 315.12 L605 312.34 L605.5 309.5 L606 306.66 L606.5 303.83 L607 301.05 L607.5 298.32 L608 295.58 L608.5 292.77 L609 289.74 L609.5 286.31 L610 282.19 L610.5 277.04 L611 270.45 L611.5 261.95 L612 251.05 L612.5 247.8 L613 247.8 L613.5 247.8 L614 247.8 L614.5 247.8 L615 247.8 L615.5 247.8 L616 247.8 L616.5 247.8 L617 247.8 L617.5 247.8 L618 247.8 L618.5 247.8 L619 247.8 L619.5 247.8 L620 247.8 L620.5 247.8 L621 247.8 L621.5 247.8 L622 247.8 L622.5 247.8 L623 247.8 L623.5 247.8 L624 247.8 L624.5 247.8 L625 248.23 L625.5 265.85 L626 280.22 L626.5 291.71 L627 300.76 L627.5 307.8 L628 313.24 L628.5 317.44 L629 320.69 L629.5 323.22 L630 325.2 L630.5 326.75 L631 327.99 L631.5 328.97 L632 329.76 L632.5 330.4 L633 330.93 L633.5 331.39 L634 331.81 L634.5 332.21 L635 332.6 L635.5 332.97 L636 333.33 L636.5 333.66 L637 333.94 L637.5 334.16 L638 334.32 L638.5 334.39 L639 334.38 L639.5 334.31 L640 334.2 L640.5 334.07 L641 333.94 L641.5 333.85 L642 333.81 L642.5 333.83 L643 333.92 L643.5 334.07 L644 334.27 L644.5 334.47 L645 334.67 L645.5 334.83 L646 334.93 L646.5 334.95 L647 334.91 L647.5 334.8 L648 334.63 L648.5 334.45 L649 334.26 L649.5 334.1 L650 333.99 L650.5 333.93 L651 333.92 L651.5 333.97 L652 334.06 L652.5 334.16 L653 334.25 L653.5 334.31 L654 334.32 L654.5 334.27 L655 334.16 L655.5 334.01 L656 333.82 L656.5 333.63 L657 333.44 L657.5 333.27 L658 333.15 L658.5 333.08 L659 333.06 L659.5 333.09 L660 333.14 L660.5 333.21 L661 333.28 L661.5 333.33 L662 333.35 L662.5 333.35 L663 333.32 L663.5 333.28 L664 333.23 L664.5 333.21 L665 333.21 L665.5 333.25 L666 333.34 L666.5 333.48 L667 333.65 L667.5 333.84 L668 334.05 L668.5 334.24 L669 334.41 L669.5 334.55 L670 334.64 L670.5 334.68 L671 334.68 L671.5 334.64 L672 334.58 L672.5 334.51 L673 334.43 L673.5 334.35 L674 334.29 L674.5 334.25 L675 334.22 L675.5 334.2 L676 334.19 L676.5 334.2 L677 334.2 L677.5 334.22 L678 334.24 L678.5 334.26 L679 334.3 L679.5 334.35 L680 334.4 L680.5 334.47 L681 334.53 L681.5 334.6 L682 334.65 L682.5 334.68 L683 334.68 L683.5 334.66 L684 334.61 L684.5 334.54 L685 334.46 L685.5 334.37 L686 334.28 L686.5 334.21 L687 334.17 L687.5 334.15 L688 334.16 L688.5 334.19 L689 334.24 L689.5 334.3 L690 334.35 L690.5 334.39 L691 334.42 L691.5 334.43 L692 334.41 L692.5 334.39 L693 334.36 L693.5 334.33 L694 334.3 L694.5 334.27 L695 334.25 L695.5 334.22 L696 334.19 L696.5 334.14 L697 334.06 L697.5 333.95 L698 333.81 L698.5 333.64 L699 333.46 L699.5 333.29 L700 333.14 L700.5 333.03 L701 332.99 L701.5 333.01 L702 333.11 L702.5 333.29 L703 333.52 L703.5 333.79 L704 334.07 L704.5 334.34 L705 334.57 L705.5 334.73 L706 334.83 L706.5 334.85 L707 334.79 L707.5 334.68 L708 334.53 L708.5 334.37 L709 334.22 L709.5 334.1 L710 334.02 L710.5 334 L711 334.03 L711.5 334.1 L712 334.2 L712.5 334.3 L713 334.39 L713.5 334.46 L714 334.49 L714.5 334.49 L715 334.46 L715.5 334.42 L716 334.37 L716.5 334.34 L717 334.33 L717.5 334.35 L718 334.41 L718.5 334.5 L719 334.6 L719.5 334.69 L720 334.76 L720.5 334.79 L721 334.76 L721.5 334.69 L722 334.56 L722.5 334.39 L723 334.21 L723.5 334.03 L724 333.89 L724.5 333.8 L725 333.79 L725.5 333.84 L726 333.97 L726.5 334.15 L727 334.36 L727.5 334.58 L728 334.77 L728.5 334.91 L729 334.99 L729.5 334.99 L730 334.93 L730.5 334.8 L731 334.64 L731.5 334.47 L732 334.3 L732.5 334.17 L733 334.09 L733.5 334.06 L734 334.08 L734.5 334.14 L735 334.22 L735.5 334.31 L736 334.39 L736.5 334.44 L737 334.45 L737.5 334.43 L738 334.38 L738.5 334.32 L739 334.26 L739.5 334.22 L740 334.22" fill="none" stroke="#4876c6" stroke-width="1.25" stroke-linejoin="round" clip-path="url(#c7)"/>
<clipPath id="c8"><rect x="453" y="358.2" width="288" height="84.5"/></clipPath>
<path d="M454 437.37 L454.5 437.15 L455 436.94 L455.5 436.76 L456 436.62 L456.5 436.53 L457 436.5 L457.5 436.53 L458 436.62 L458.5 436.76 L459 436.94 L459.5 437.15 L460 437.37 L460.5 437.59 L461 437.8 L461.5 437.99 L462 438.15 L462.5 438.29 L463 438.4 L463.5 438.49 L464 438.56 L464.5 438.6 L465 438.64 L465.5 438.66 L466 438.68 L466.5 438.69 L467 438.69 L467.5 438.7 L468 438.7 L468.5 438.7 L469 438.7 L469.5 438.7 L470 438.7 L470.5 438.7 L471 438.7 L471.5 438.7 L472 438.7 L472.5 438.7 L473 438.69 L473.5 438.69 L474 438.69 L474.5 438.69 L475 438.68 L475.5 438.67 L476 438.66 L476.5 438.64 L477 438.61 L477.5 438.57 L478 438.52 L478.5 438.45 L479 438.35 L479.5 438.22 L480 438.06 L480.5 437.85 L481 437.58 L481.5 437.25 L482 436.86 L482.5 436.39 L483 435.85 L483.5 435.24 L484 434.55 L484.5 433.8 L485 433.01 L485.5 432.17 L486 431.31 L486.5 430.44 L487 429.56 L487.5 428.66 L488 427.73 L488.5 426.71 L489 425.55 L489.5 424.17 L490 422.44 L490.5 420.27 L491 417.5 L491.5 414.03 L492 409.76 L492.5 404.65 L493 398.71 L493.5 392.03 L494 384.81 L494.5 377.32 L495 369.92 L495.5 363 L496 356.99 L496.5 352.29 L497 352.2 L497.5 352.2 L498 352.2 L498.5 352.2 L499 356.08 L499.5 362.07 L500 369.19 L500.5 377 L501 385.1 L501.5 393.11 L502 400.7 L502.5 407.64 L503 413.77 L503.5 419.02 L504 423.39 L504.5 426.93 L505 429.72 L505.5 431.88 L506 433.52 L506.5 434.74 L507 435.65 L507.5 436.31 L508 436.8 L508.5 437.17 L509 437.44 L509.5 437.66 L510 437.83 L510.5 437.97 L511 438.09 L511.5 438.18 L512 438.27 L512.5 438.34 L513 438.4 L513.5 438.45 L514 438.49 L514.5 438.53 L515 438.56 L515.5 438.59 L516 438.61 L516.5 438.63 L517 438.64 L517.5 438.65 L518 438.66 L518.5 438.67 L519 438.68 L519.5 438.68 L520 438.69 L520.5 438.69 L521 438.69 L521.5 438.69 L522 438.7 L522.5 438.7 L523 438.7 L523.5 438.7 L524 438.7 L524.5 438.7 L525 438.7 L525.5 438.7 L526 438.7 L526.5 438.7 L527 438.7 L527.5 438.7 L528 438.7 L528.5 438.7 L529 438.7 L529.5 438.7 L530 438.7 L530.5 438.7 L531 438.7 L531.5 438.7 L532 438.7 L532.5 438.7 L533 438.7 L533.5 438.7 L534 438.7 L534.5 438.7 L535 438.7 L535.5 438.7 L536 438.7 L536.5 438.7 L537 438.7 L537.5 438.7 L538 438.7 L538.5 438.7 L539 438.7 L539.5 438.7 L540 438.7 L540.5 438.7 L541 438.7 L541.5 438.7 L542 438.7 L542.5 438.7 L543 438.7 L543.5 438.7 L544 438.7 L544.5 438.7 L545 438.7 L545.5 438.7 L546 438.7 L546.5 438.7 L547 438.7 L547.5 438.7 L548 438.7 L548.5 438.7 L549 438.7 L549.5 438.7 L550 438.7 L550.5 438.7 L551 438.7 L551.5 438.7 L552 438.7 L552.5 438.7 L553 438.7 L553.5 438.7 L554 438.7 L554.5 438.7 L555 438.7 L555.5 438.7 L556 438.7 L556.5 438.7 L557 438.7 L557.5 438.7 L558 438.7 L558.5 438.7 L559 438.7 L559.5 438.7 L560 438.7 L560.5 438.7 L561 438.7 L561.5 438.7 L562 438.7 L562.5 438.7 L563 438.7 L563.5 438.7 L564 438.7 L564.5 438.7 L565 438.7 L565.5 438.7 L566 438.7 L566.5 438.7 L567 438.7 L567.5 438.7 L568 438.7 L568.5 438.7 L569 438.7 L569.5 438.7 L570 438.7 L570.5 438.7 L571 438.7 L571.5 438.7 L572 438.7 L572.5 438.7 L573 438.7 L573.5 438.7 L574 438.7 L574.5 438.7 L575 438.7 L575.5 438.7 L576 438.7 L576.5 438.7 L577 438.7 L577.5 438.7 L578 438.7 L578.5 438.7 L579 438.7 L579.5 438.7 L580 438.7 L580.5 438.7 L581 438.7 L581.5 438.7 L582 438.7 L582.5 438.7 L583 438.7 L583.5 438.7 L584 438.7 L584.5 438.7 L585 438.7 L585.5 438.7 L586 438.7 L586.5 438.7 L587 438.7 L587.5 438.7 L588 438.7 L588.5 438.7 L589 438.7 L589.5 438.7 L590 438.7 L590.5 438.7 L591 438.7 L591.5 438.7 L592 438.7 L592.5 438.7 L593 438.7 L593.5 438.7 L594 438.7 L594.5 438.7 L595 438.7 L595.5 438.7 L596 438.7 L596.5 438.7 L597 438.7 L597.5 438.7 L598 438.7 L598.5 438.7 L599 438.7 L599.5 438.7 L600 438.7 L600.5 438.7 L601 438.7 L601.5 438.7 L602 438.7 L602.5 438.7 L603 438.7 L603.5 438.7 L604 438.7 L604.5 438.7 L605 438.7 L605.5 438.7 L606 438.7 L606.5 438.7 L607 438.7 L607.5 438.7 L608 438.7 L608.5 438.7 L609 438.7 L609.5 438.7 L610 438.7 L610.5 438.7 L611 438.7 L611.5 438.7 L612 438.7 L612.5 438.7 L613 438.7 L613.5 438.7 L614 438.7 L614.5 438.7 L615 438.7 L615.5 438.7 L616 438.7 L616.5 438.7 L617 438.7 L617.5 438.7 L618 438.7 L618.5 438.7 L619 438.7 L619.5 438.7 L620 438.7 L620.5 438.7 L621 438.7 L621.5 438.7 L622 438.7 L622.5 438.7 L623 438.7 L623.5 438.7 L624 438.7 L624.5 438.7 L625 438.7 L625.5 438.7 L626 438.7 L626.5 438.7 L627 438.7 L627.5 438.7 L628 438.7 L628.5 438.7 L629 438.7 L629.5 438.7 L630 438.7 L630.5 438.7 L631 438.7 L631.5 438.7 L632 438.7 L632.5 438.7 L633 438.7 L633.5 438.7 L634 438.7 L634.5 438.7 L635 438.7 L635.5 438.7 L636 438.7 L636.5 438.7 L637 438.7 L637.5 438.7 L638 438.7 L638.5 438.7 L639 438.7 L639.5 438.7 L640 438.7 L640.5 438.7 L641 438.7 L641.5 438.7 L642 438.7 L642.5 438.7 L643 438.7 L643.5 438.7 L644 438.7 L644.5 438.7 L645 438.7 L645.5 438.7 L646 438.7 L646.5 438.7 L647 438.7 L647.5 438.7 L648 438.7 L648.5 438.7 L649 438.7 L649.5 438.69 L650 438.69 L650.5 438.68 L651 438.66 L651.5 438.64 L652 438.6 L652.5 438.55 L653 438.47 L653.5 438.36 L654 438.21 L654.5 438.02 L655 437.78 L655.5 437.48 L656 437.12 L656.5 436.73 L657 436.3 L657.5 435.85 L658 435.42 L658.5 435.02 L659 434.69 L659.5 434.45 L660 434.32 L660.5 434.31 L661 434.42 L661.5 434.64 L662 434.95 L662.5 435.34 L663 435.77 L663.5 436.21 L664 436.64 L664.5 437.05 L665 437.41 L665.5 437.72 L666 437.98 L666.5 438.18 L667 438.34 L667.5 438.45 L668 438.54 L668.5 438.59 L669 438.63 L669.5 438.66 L670 438.68 L670.5 438.69 L671 438.69 L671.5 438.69 L672 438.7 L672.5 438.7 L673 438.7 L673.5 438.69 L674 438.69 L674.5 438.69 L675 438.69 L675.5 438.68 L676 438.68 L676.5 438.67 L677 438.67 L677.5 438.66 L678 438.65 L678.5 438.63 L679 438.61 L679.5 438.58 L680 438.54 L680.5 438.5 L681 438.43 L681.5 438.35 L682 438.24 L682.5 438.1 L683 437.91 L683.5 437.68 L684 437.39 L684.5 437.04 L685 436.6 L685.5 436.08 L686 435.46 L686.5 434.75 L687 433.94 L687.5 433.03 L688 432.03 L688.5 430.96 L689 429.83 L689.5 428.66 L690 427.48 L690.5 426.3 L691 425.15 L691.5 424.03 L692 422.94 L692.5 421.87 L693 420.76 L693.5 419.57 L694 418.22 L694.5 416.61 L695 414.65 L695.5 412.23 L696 409.26 L696.5 405.68 L697 401.5 L697.5 396.74 L698 391.52 L698.5 386.03 L699 380.5 L699.5 375.23 L700 370.52 L700.5 366.7 L701 364.04 L701.5 362.73 L702 362.92 L702.5 364.6 L703 367.71 L703.5 372.05 L704 377.38 L704.5 383.39 L705 389.78 L705.5 396.23 L706 402.48 L706.5 408.31 L707 413.57 L707.5 418.18 L708 422.11 L708.5 425.36 L709 428.01 L709.5 430.11 L710 431.75 L710.5 433.03 L711 434.01 L711.5 434.76 L712 435.35 L712.5 435.82 L713 436.19 L713.5 436.5 L714 436.76 L714.5 436.99 L715 437.19 L715.5 437.37 L716 437.53 L716.5 437.67 L717 437.8 L717.5 437.92 L718 438.02 L718.5 438.11 L719 438.2 L719.5 438.27 L720 438.33 L720.5 438.39 L721 438.44 L721.5 438.48 L722 438.51 L722.5 438.54 L723 438.57 L723.5 438.59 L724 438.61 L724.5 438.63 L725 438.64 L725.5 438.65 L726 438.66 L726.5 438.67 L727 438.68 L727.5 438.68 L728 438.68 L728.5 438.69 L729 438.69 L729.5 438.69 L730 438.69 L730.5 438.7 L731 438.7 L731.5 438.7 L732 438.7 L732.5 438.7 L733 438.7 L733.5 438.7 L734 438.7 L734.5 438.7 L735 438.7 L735.5 438.7 L736 438.7 L736.5 438.7 L737 438.7 L737.5 438.7 L738 438.7 L738.5 438.7 L739 438.7 L739.5 438.7 L740 438.7" fill="none" stroke="#4876c6" stroke-width="1.25" stroke-linejoin="round" clip-path="url(#c8)"/>
<line x1="451.8" y1="44.75" x2="740" y2="44.75" stroke="#1e1e1e" stroke-width="1.4"/>
<line x1="452.95" y1="44.6" x2="452.95" y2="129.8" stroke="#2a2a2a" stroke-width="2.1"/>
<line x1="451.8" y1="130" x2="740" y2="130" stroke="#222" stroke-width="1.3"/>
<line x1="451.8" y1="131.25" x2="740" y2="131.25" stroke="#f2f2f2" stroke-width="1"/>
<line x1="451.8" y1="148.95" x2="740" y2="148.95" stroke="#1e1e1e" stroke-width="1.4"/>
<line x1="452.95" y1="148.8" x2="452.95" y2="234.2" stroke="#2a2a2a" stroke-width="2.1"/>
<line x1="451.8" y1="234.4" x2="740" y2="234.4" stroke="#222" stroke-width="1.3"/>
<line x1="451.8" y1="235.65" x2="740" y2="235.65" stroke="#f2f2f2" stroke-width="1"/>
<line x1="451.8" y1="253.75" x2="740" y2="253.75" stroke="#1e1e1e" stroke-width="1.4"/>
<line x1="452.75" y1="253.6" x2="452.75" y2="338.7" stroke="#2a2a2a" stroke-width="1.7"/>
<line x1="451.8" y1="338.9" x2="740" y2="338.9" stroke="#222" stroke-width="1.3"/>
<line x1="451.8" y1="340.15" x2="740" y2="340.15" stroke="#f2f2f2" stroke-width="1"/>
<line x1="451.8" y1="357.95" x2="740" y2="357.95" stroke="#1e1e1e" stroke-width="1.4"/>
<line x1="452.75" y1="357.8" x2="452.75" y2="442.6" stroke="#2a2a2a" stroke-width="1.7"/>
<line x1="451.8" y1="442.8" x2="740" y2="442.8" stroke="#222" stroke-width="1.3"/>
<line x1="451.8" y1="444.05" x2="740" y2="444.05" stroke="#f2f2f2" stroke-width="1"/>
<line x1="450.5" y1="123.58" x2="451.8" y2="123.58" stroke="#4a4a4a" stroke-width="0.8"/>
<line x1="450.5" y1="121.96" x2="451.8" y2="121.96" stroke="#4a4a4a" stroke-width="0.8"/>
<line x1="450.5" y1="120.34" x2="451.8" y2="120.34" stroke="#4a4a4a" stroke-width="0.8"/>
<line x1="450.5" y1="118.72" x2="451.8" y2="118.72" stroke="#4a4a4a" stroke-width="0.8"/>
<line x1="450.5" y1="117.1" x2="451.8" y2="117.1" stroke="#4a4a4a" stroke-width="0.8"/>
<line x1="450.5" y1="115.48" x2="451.8" y2="115.48" stroke="#4a4a4a" stroke-width="0.8"/>
<line x1="450.5" y1="113.86" x2="451.8" y2="113.86" stroke="#4a4a4a" stroke-width="0.8"/>
<line x1="450.5" y1="112.24" x2="451.8" y2="112.24" stroke="#4a4a4a" stroke-width="0.8"/>
<line x1="450.5" y1="110.62" x2="451.8" y2="110.62" stroke="#4a4a4a" stroke-width="0.8"/>
<line x1="450.5" y1="109" x2="451.8" y2="109" stroke="#4a4a4a" stroke-width="0.8"/>
<line x1="450.5" y1="107.38" x2="451.8" y2="107.38" stroke="#4a4a4a" stroke-width="0.8"/>
<line x1="450.5" y1="105.76" x2="451.8" y2="105.76" stroke="#4a4a4a" stroke-width="0.8"/>
<line x1="450.5" y1="104.14" x2="451.8" y2="104.14" stroke="#4a4a4a" stroke-width="0.8"/>
<line x1="450.5" y1="102.52" x2="451.8" y2="102.52" stroke="#4a4a4a" stroke-width="0.8"/>
<line x1="450.5" y1="99.28" x2="451.8" y2="99.28" stroke="#4a4a4a" stroke-width="0.8"/>
<line x1="450.5" y1="97.66" x2="451.8" y2="97.66" stroke="#4a4a4a" stroke-width="0.8"/>
<line x1="450.5" y1="96.04" x2="451.8" y2="96.04" stroke="#4a4a4a" stroke-width="0.8"/>
<line x1="450.5" y1="94.42" x2="451.8" y2="94.42" stroke="#4a4a4a" stroke-width="0.8"/>
<line x1="450.5" y1="92.8" x2="451.8" y2="92.8" stroke="#4a4a4a" stroke-width="0.8"/>
<line x1="450.5" y1="91.18" x2="451.8" y2="91.18" stroke="#4a4a4a" stroke-width="0.8"/>
<line x1="450.5" y1="89.56" x2="451.8" y2="89.56" stroke="#4a4a4a" stroke-width="0.8"/>
<line x1="450.5" y1="87.94" x2="451.8" y2="87.94" stroke="#4a4a4a" stroke-width="0.8"/>
<line x1="450.5" y1="86.32" x2="451.8" y2="86.32" stroke="#4a4a4a" stroke-width="0.8"/>
<line x1="450.5" y1="84.7" x2="451.8" y2="84.7" stroke="#4a4a4a" stroke-width="0.8"/>
<line x1="450.5" y1="83.08" x2="451.8" y2="83.08" stroke="#4a4a4a" stroke-width="0.8"/>
<line x1="450.5" y1="81.46" x2="451.8" y2="81.46" stroke="#4a4a4a" stroke-width="0.8"/>
<line x1="450.5" y1="79.84" x2="451.8" y2="79.84" stroke="#4a4a4a" stroke-width="0.8"/>
<line x1="450.5" y1="78.22" x2="451.8" y2="78.22" stroke="#4a4a4a" stroke-width="0.8"/>
<line x1="450.5" y1="74.98" x2="451.8" y2="74.98" stroke="#4a4a4a" stroke-width="0.8"/>
<line x1="450.5" y1="73.36" x2="451.8" y2="73.36" stroke="#4a4a4a" stroke-width="0.8"/>
<line x1="450.5" y1="71.74" x2="451.8" y2="71.74" stroke="#4a4a4a" stroke-width="0.8"/>
<line x1="450.5" y1="70.12" x2="451.8" y2="70.12" stroke="#4a4a4a" stroke-width="0.8"/>
<line x1="450.5" y1="68.5" x2="451.8" y2="68.5" stroke="#4a4a4a" stroke-width="0.8"/>
<line x1="450.5" y1="66.88" x2="451.8" y2="66.88" stroke="#4a4a4a" stroke-width="0.8"/>
<line x1="450.5" y1="65.26" x2="451.8" y2="65.26" stroke="#4a4a4a" stroke-width="0.8"/>
<line x1="450.5" y1="63.64" x2="451.8" y2="63.64" stroke="#4a4a4a" stroke-width="0.8"/>
<line x1="450.5" y1="62.02" x2="451.8" y2="62.02" stroke="#4a4a4a" stroke-width="0.8"/>
<line x1="450.5" y1="60.4" x2="451.8" y2="60.4" stroke="#4a4a4a" stroke-width="0.8"/>
<line x1="450.5" y1="58.78" x2="451.8" y2="58.78" stroke="#4a4a4a" stroke-width="0.8"/>
<line x1="450.5" y1="57.16" x2="451.8" y2="57.16" stroke="#4a4a4a" stroke-width="0.8"/>
<line x1="450.5" y1="55.54" x2="451.8" y2="55.54" stroke="#4a4a4a" stroke-width="0.8"/>
<line x1="450.5" y1="53.92" x2="451.8" y2="53.92" stroke="#4a4a4a" stroke-width="0.8"/>
<line x1="450.5" y1="50.68" x2="451.8" y2="50.68" stroke="#4a4a4a" stroke-width="0.8"/>
<line x1="450.5" y1="49.06" x2="451.8" y2="49.06" stroke="#4a4a4a" stroke-width="0.8"/>
<line x1="450.5" y1="47.44" x2="451.8" y2="47.44" stroke="#4a4a4a" stroke-width="0.8"/>
<line x1="450.5" y1="45.82" x2="451.8" y2="45.82" stroke="#4a4a4a" stroke-width="0.8"/>
<line x1="447.5" y1="76.6" x2="451.8" y2="76.6" stroke="#1c1c1c" stroke-width="1.3"/>
<text x="444.9" y="75.7" font-size="8.6" font-weight="normal" text-anchor="end" fill="#111" textLength="12.1" lengthAdjust="spacingAndGlyphs" stroke="#111" stroke-width="0.3">300</text>
<line x1="447.5" y1="100.9" x2="451.8" y2="100.9" stroke="#1c1c1c" stroke-width="1.3"/>
<text x="444.9" y="100" font-size="8.6" font-weight="normal" text-anchor="end" fill="#111" textLength="12.1" lengthAdjust="spacingAndGlyphs" stroke="#111" stroke-width="0.3">150</text>
<line x1="447.5" y1="125.2" x2="451.8" y2="125.2" stroke="#1c1c1c" stroke-width="1.3"/>
<text x="444.9" y="124.3" font-size="8.6" font-weight="normal" text-anchor="end" fill="#111" stroke="#111" stroke-width="0.3">0</text>
<line x1="450.5" y1="228.28" x2="451.8" y2="228.28" stroke="#4a4a4a" stroke-width="0.8"/>
<line x1="450.5" y1="226.66" x2="451.8" y2="226.66" stroke="#4a4a4a" stroke-width="0.8"/>
<line x1="450.5" y1="225.04" x2="451.8" y2="225.04" stroke="#4a4a4a" stroke-width="0.8"/>
<line x1="450.5" y1="223.42" x2="451.8" y2="223.42" stroke="#4a4a4a" stroke-width="0.8"/>
<line x1="450.5" y1="221.8" x2="451.8" y2="221.8" stroke="#4a4a4a" stroke-width="0.8"/>
<line x1="450.5" y1="220.18" x2="451.8" y2="220.18" stroke="#4a4a4a" stroke-width="0.8"/>
<line x1="450.5" y1="218.56" x2="451.8" y2="218.56" stroke="#4a4a4a" stroke-width="0.8"/>
<line x1="450.5" y1="216.94" x2="451.8" y2="216.94" stroke="#4a4a4a" stroke-width="0.8"/>
<line x1="450.5" y1="215.32" x2="451.8" y2="215.32" stroke="#4a4a4a" stroke-width="0.8"/>
<line x1="450.5" y1="213.7" x2="451.8" y2="213.7" stroke="#4a4a4a" stroke-width="0.8"/>
<line x1="450.5" y1="212.08" x2="451.8" y2="212.08" stroke="#4a4a4a" stroke-width="0.8"/>
<line x1="450.5" y1="210.46" x2="451.8" y2="210.46" stroke="#4a4a4a" stroke-width="0.8"/>
<line x1="450.5" y1="208.84" x2="451.8" y2="208.84" stroke="#4a4a4a" stroke-width="0.8"/>
<line x1="450.5" y1="207.22" x2="451.8" y2="207.22" stroke="#4a4a4a" stroke-width="0.8"/>
<line x1="450.5" y1="203.98" x2="451.8" y2="203.98" stroke="#4a4a4a" stroke-width="0.8"/>
<line x1="450.5" y1="202.36" x2="451.8" y2="202.36" stroke="#4a4a4a" stroke-width="0.8"/>
<line x1="450.5" y1="200.74" x2="451.8" y2="200.74" stroke="#4a4a4a" stroke-width="0.8"/>
<line x1="450.5" y1="199.12" x2="451.8" y2="199.12" stroke="#4a4a4a" stroke-width="0.8"/>
<line x1="450.5" y1="197.5" x2="451.8" y2="197.5" stroke="#4a4a4a" stroke-width="0.8"/>
<line x1="450.5" y1="195.88" x2="451.8" y2="195.88" stroke="#4a4a4a" stroke-width="0.8"/>
<line x1="450.5" y1="194.26" x2="451.8" y2="194.26" stroke="#4a4a4a" stroke-width="0.8"/>
<line x1="450.5" y1="192.64" x2="451.8" y2="192.64" stroke="#4a4a4a" stroke-width="0.8"/>
<line x1="450.5" y1="191.02" x2="451.8" y2="191.02" stroke="#4a4a4a" stroke-width="0.8"/>
<line x1="450.5" y1="189.4" x2="451.8" y2="189.4" stroke="#4a4a4a" stroke-width="0.8"/>
<line x1="450.5" y1="187.78" x2="451.8" y2="187.78" stroke="#4a4a4a" stroke-width="0.8"/>
<line x1="450.5" y1="186.16" x2="451.8" y2="186.16" stroke="#4a4a4a" stroke-width="0.8"/>
<line x1="450.5" y1="184.54" x2="451.8" y2="184.54" stroke="#4a4a4a" stroke-width="0.8"/>
<line x1="450.5" y1="182.92" x2="451.8" y2="182.92" stroke="#4a4a4a" stroke-width="0.8"/>
<line x1="450.5" y1="179.68" x2="451.8" y2="179.68" stroke="#4a4a4a" stroke-width="0.8"/>
<line x1="450.5" y1="178.06" x2="451.8" y2="178.06" stroke="#4a4a4a" stroke-width="0.8"/>
<line x1="450.5" y1="176.44" x2="451.8" y2="176.44" stroke="#4a4a4a" stroke-width="0.8"/>
<line x1="450.5" y1="174.82" x2="451.8" y2="174.82" stroke="#4a4a4a" stroke-width="0.8"/>
<line x1="450.5" y1="173.2" x2="451.8" y2="173.2" stroke="#4a4a4a" stroke-width="0.8"/>
<line x1="450.5" y1="171.58" x2="451.8" y2="171.58" stroke="#4a4a4a" stroke-width="0.8"/>
<line x1="450.5" y1="169.96" x2="451.8" y2="169.96" stroke="#4a4a4a" stroke-width="0.8"/>
<line x1="450.5" y1="168.34" x2="451.8" y2="168.34" stroke="#4a4a4a" stroke-width="0.8"/>
<line x1="450.5" y1="166.72" x2="451.8" y2="166.72" stroke="#4a4a4a" stroke-width="0.8"/>
<line x1="450.5" y1="165.1" x2="451.8" y2="165.1" stroke="#4a4a4a" stroke-width="0.8"/>
<line x1="450.5" y1="163.48" x2="451.8" y2="163.48" stroke="#4a4a4a" stroke-width="0.8"/>
<line x1="450.5" y1="161.86" x2="451.8" y2="161.86" stroke="#4a4a4a" stroke-width="0.8"/>
<line x1="450.5" y1="160.24" x2="451.8" y2="160.24" stroke="#4a4a4a" stroke-width="0.8"/>
<line x1="450.5" y1="158.62" x2="451.8" y2="158.62" stroke="#4a4a4a" stroke-width="0.8"/>
<line x1="450.5" y1="155.38" x2="451.8" y2="155.38" stroke="#4a4a4a" stroke-width="0.8"/>
<line x1="450.5" y1="153.76" x2="451.8" y2="153.76" stroke="#4a4a4a" stroke-width="0.8"/>
<line x1="450.5" y1="152.14" x2="451.8" y2="152.14" stroke="#4a4a4a" stroke-width="0.8"/>
<line x1="450.5" y1="150.52" x2="451.8" y2="150.52" stroke="#4a4a4a" stroke-width="0.8"/>
<line x1="447.5" y1="180.9" x2="451.8" y2="180.9" stroke="#1c1c1c" stroke-width="1.3"/>
<text x="444.9" y="180" font-size="8.6" font-weight="normal" text-anchor="end" fill="#111" textLength="12.1" lengthAdjust="spacingAndGlyphs" stroke="#111" stroke-width="0.3">300</text>
<line x1="447.5" y1="205.4" x2="451.8" y2="205.4" stroke="#1c1c1c" stroke-width="1.3"/>
<text x="444.9" y="204.5" font-size="8.6" font-weight="normal" text-anchor="end" fill="#111" textLength="12.1" lengthAdjust="spacingAndGlyphs" stroke="#111" stroke-width="0.3">150</text>
<line x1="447.5" y1="229.9" x2="451.8" y2="229.9" stroke="#1c1c1c" stroke-width="1.3"/>
<text x="444.9" y="229" font-size="8.6" font-weight="normal" text-anchor="end" fill="#111" stroke="#111" stroke-width="0.3">0</text>
<line x1="447.5" y1="334.2" x2="451.8" y2="334.2" stroke="#1c1c1c" stroke-width="1.3"/>
<text x="444.9" y="333.3" font-size="8.6" font-weight="normal" text-anchor="end" fill="#111" stroke="#111" stroke-width="0.3">0</text>
<line x1="449.5" y1="361.2" x2="451.8" y2="361.2" stroke="#1c1c1c" stroke-width="1"/>
<line x1="448.4" y1="380.5" x2="451.8" y2="380.5" stroke="#1c1c1c" stroke-width="1.3"/>
<text x="445" y="379.6" font-size="8.6" font-weight="normal" text-anchor="end" fill="#111" textLength="16.2" lengthAdjust="spacingAndGlyphs" stroke="#111" stroke-width="0.3">1800</text>
<line x1="448.4" y1="400.1" x2="451.8" y2="400.1" stroke="#1c1c1c" stroke-width="1.3"/>
<text x="445" y="399.2" font-size="8.6" font-weight="normal" text-anchor="end" fill="#111" textLength="16.2" lengthAdjust="spacingAndGlyphs" stroke="#111" stroke-width="0.3">1200</text>
<line x1="448.4" y1="419.6" x2="451.8" y2="419.6" stroke="#1c1c1c" stroke-width="1.3"/>
<text x="445" y="418.7" font-size="8.6" font-weight="normal" text-anchor="end" fill="#111" textLength="12.1" lengthAdjust="spacingAndGlyphs" stroke="#111" stroke-width="0.3">600</text>
<line x1="448.4" y1="438.9" x2="451.8" y2="438.9" stroke="#1c1c1c" stroke-width="1.3"/>
<text x="445" y="438" font-size="8.6" font-weight="normal" text-anchor="end" fill="#111" stroke="#111" stroke-width="0.3">0</text>
<rect x="423.6" y="433.4" width="2.4" height="4.2" fill="#1a1a1a"/>
<rect x="458.6" y="133.9" width="9.2" height="9.2" fill="#0e1d4c"/>
<rect x="459.3" y="134.6" width="7.4" height="7.4" fill="#9fbdea"/>
<rect x="460.3" y="135.6" width="6.4" height="6.4" fill="#3b68c0"/>
<rect x="460.9" y="136.2" width="3.3" height="3.9" fill="#5585d6"/>
<rect x="469.2" y="133.9" width="9.2" height="9.2" fill="#0e1d4c"/>
<rect x="469.9" y="134.6" width="7.4" height="7.4" fill="#9fbdea"/>
<rect x="470.9" y="135.6" width="6.4" height="6.4" fill="#3b68c0"/>
<rect x="471.5" y="136.2" width="3.3" height="3.9" fill="#5585d6"/>
<rect x="458.6" y="238.2" width="9.2" height="9.2" fill="#0e1d4c"/>
<rect x="459.3" y="238.9" width="7.4" height="7.4" fill="#9fbdea"/>
<rect x="460.3" y="239.9" width="6.4" height="6.4" fill="#3b68c0"/>
<rect x="460.9" y="240.5" width="3.3" height="3.9" fill="#5585d6"/>
<rect x="469.2" y="238.2" width="9.2" height="9.2" fill="#0e1d4c"/>
<rect x="469.9" y="238.9" width="7.4" height="7.4" fill="#9fbdea"/>
<rect x="470.9" y="239.9" width="6.4" height="6.4" fill="#3b68c0"/>
<rect x="471.5" y="240.5" width="3.3" height="3.9" fill="#5585d6"/>
<rect x="458.6" y="342.9" width="9.2" height="9.2" fill="#0e1d4c"/>
<rect x="459.3" y="343.6" width="7.4" height="7.4" fill="#9fbdea"/>
<rect x="460.3" y="344.6" width="6.4" height="6.4" fill="#3b68c0"/>
<rect x="460.9" y="345.2" width="3.3" height="3.9" fill="#5585d6"/>
<rect x="469.2" y="342.9" width="9.2" height="9.2" fill="#0e1d4c"/>
<rect x="469.9" y="343.6" width="7.4" height="7.4" fill="#9fbdea"/>
<rect x="470.9" y="344.6" width="6.4" height="6.4" fill="#3b68c0"/>
<rect x="471.5" y="345.2" width="3.3" height="3.9" fill="#5585d6"/>
<rect x="458.6" y="447.3" width="9.2" height="9.2" fill="#0e1d4c"/>
<rect x="459.3" y="448" width="7.4" height="7.4" fill="#9fbdea"/>
<rect x="460.3" y="449" width="6.4" height="6.4" fill="#3b68c0"/>
<rect x="460.9" y="449.6" width="3.3" height="3.9" fill="#5585d6"/>
<rect x="469.2" y="447.3" width="9.2" height="9.2" fill="#0e1d4c"/>
<rect x="469.9" y="448" width="7.4" height="7.4" fill="#9fbdea"/>
<rect x="470.9" y="449" width="6.4" height="6.4" fill="#3b68c0"/>
<rect x="471.5" y="449.6" width="3.3" height="3.9" fill="#5585d6"/>
<line x1="423" y1="458.4" x2="484" y2="458.4" stroke="#111" stroke-width="1.5"/>
<line x1="484" y1="458.4" x2="520" y2="458.4" stroke="#9a9a9a" stroke-width="0.8"/>
<text x="672.1" y="63.8" font-size="19.8" font-weight="normal" text-anchor="start" fill="#111" textLength="48.4" lengthAdjust="spacingAndGlyphs" stroke="#111" stroke-width="0.35">9 sec</text>
<text x="661.9" y="87.8" font-size="19.8" font-weight="normal" text-anchor="start" fill="#111" textLength="74.6" lengthAdjust="spacingAndGlyphs" stroke="#111" stroke-width="0.35">injection</text>
<text x="665.8" y="168.6" font-size="19.8" font-weight="normal" text-anchor="start" fill="#111" textLength="59" lengthAdjust="spacingAndGlyphs" stroke="#111" stroke-width="0.35">22 sec</text>
<text x="661.6" y="192.6" font-size="19.8" font-weight="normal" text-anchor="start" fill="#111" textLength="74.4" lengthAdjust="spacingAndGlyphs" stroke="#111" stroke-width="0.35">injection</text>
<text x="668" y="284.1" font-size="19.8" font-weight="normal" text-anchor="start" fill="#111" textLength="55.6" lengthAdjust="spacingAndGlyphs" stroke="#111" stroke-width="0.35">Donor</text>
<text x="660.6" y="307.9" font-size="19.8" font-weight="normal" text-anchor="start" fill="#111" textLength="76.8" lengthAdjust="spacingAndGlyphs" stroke="#111" stroke-width="0.35">Baseline</text>
<text x="525.4" y="385.9" font-size="15.8" font-weight="bold" text-anchor="start" fill="#111" textLength="146.6" lengthAdjust="spacingAndGlyphs" stroke="#111" stroke-width="0.45" stroke-linejoin="round">RECIPIENT PRE-TX</text>
<text x="566.8" y="355.1" font-size="19.4" font-weight="bold" text-anchor="start" fill="#111" textLength="21.4" lengthAdjust="spacingAndGlyphs" stroke="#111" stroke-width="0.45" stroke-linejoin="round">11</text>
<text x="607.6" y="355.1" font-size="19.4" font-weight="bold" text-anchor="start" fill="#111" textLength="21.6" lengthAdjust="spacingAndGlyphs" stroke="#111" stroke-width="0.45" stroke-linejoin="round">12</text>
<text x="492.3" y="457.9" font-size="19.4" font-weight="bold" text-anchor="start" fill="#111" stroke="#111" stroke-width="0.45" stroke-linejoin="round">8</text>
<text x="690.8" y="457.8" font-size="19.4" font-weight="bold" text-anchor="start" fill="#111" textLength="21.8" lengthAdjust="spacingAndGlyphs" stroke="#111" stroke-width="0.45" stroke-linejoin="round">13</text>
<path d="M495.9 193.2 H499.1 V202 H502.6 L497.5 211.4 L492.4 202 H495.9 Z" fill="#0c0c0c"/>
<path d="M698.7 197.4 H701.9 V207 H705.4 L700.3 216.4 L695.2 207 H698.7 Z" fill="#0c0c0c"/>
<path d="M31.9 111.2 L314.2 111.2 L460.8 44.8" fill="none" stroke="#1a1a1a" stroke-width="1.3" stroke-dasharray="3.8 2.2"/>
<path d="M316.5 129 L453.6 129" fill="none" stroke="#1a1a1a" stroke-width="1.3" stroke-dasharray="3.8 2.2"/>
<path d="M31.9 226.8 L315.6 226.8" fill="none" stroke="#1a1a1a" stroke-width="1.3" stroke-dasharray="3.8 2.2"/>
<path d="M308 226.8 L452 149.4" fill="none" stroke="#1a1a1a" stroke-width="1.3" stroke-dasharray="3.8 2.2"/>
<path d="M319 234.3 L453 234.3" fill="none" stroke="#1a1a1a" stroke-width="1.3" stroke-dasharray="3.8 2.2"/>
<path d="M38.2 322.6 L323 322.6 L456.2 256" fill="none" stroke="#1a1a1a" stroke-width="1.3" stroke-dasharray="3.8 2.2"/>
<path d="M312 339.7 L453.4 339.7" fill="none" stroke="#1a1a1a" stroke-width="1.3" stroke-dasharray="3.8 2.2"/>
</svg>
</body></html>
